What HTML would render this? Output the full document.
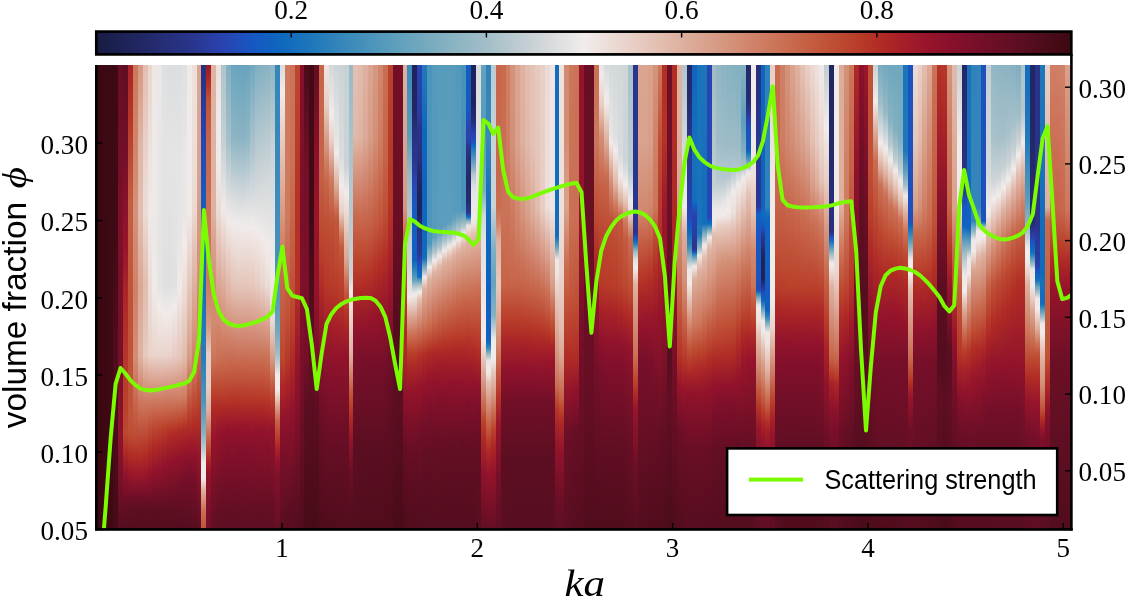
<!DOCTYPE html><html><head><meta charset="utf-8"><title>plot</title><style>html,body{margin:0;padding:0;background:#fff}svg{display:block}</style></head><body><svg width="1125" height="596" viewBox="0 0 1125 596"><defs><linearGradient id="g0" x1="0" y1="0" x2="0" y2="1"><stop offset="0.000" stop-color="#3c0912"/><stop offset="1.000" stop-color="#3c0912"/></linearGradient><linearGradient id="g1" x1="0" y1="0" x2="0" y2="1"><stop offset="0.000" stop-color="#3c0912"/><stop offset="1.000" stop-color="#3c0912"/></linearGradient><linearGradient id="g2" x1="0" y1="0" x2="0" y2="1"><stop offset="0.000" stop-color="#3c0912"/><stop offset="1.000" stop-color="#3c0912"/></linearGradient><linearGradient id="g3" x1="0" y1="0" x2="0" y2="1"><stop offset="0.000" stop-color="#3c0912"/><stop offset="1.000" stop-color="#3f0913"/></linearGradient><linearGradient id="g4" x1="0" y1="0" x2="0" y2="1"><stop offset="0.000" stop-color="#3e0913"/><stop offset="0.349" stop-color="#3f0a14"/><stop offset="0.599" stop-color="#500c1c"/><stop offset="0.944" stop-color="#470b18"/><stop offset="1.000" stop-color="#460b17"/></linearGradient><linearGradient id="g5" x1="0" y1="0" x2="0" y2="1"><stop offset="0.000" stop-color="#660e24"/><stop offset="0.336" stop-color="#7e0f2b"/><stop offset="0.629" stop-color="#760f29"/><stop offset="0.797" stop-color="#8f122c"/><stop offset="0.905" stop-color="#760f29"/><stop offset="0.970" stop-color="#5d0e22"/><stop offset="1.000" stop-color="#560d1f"/></linearGradient><linearGradient id="g6" x1="0" y1="0" x2="0" y2="1"><stop offset="0.000" stop-color="#5e0e22"/><stop offset="0.181" stop-color="#710f28"/><stop offset="0.397" stop-color="#99152b"/><stop offset="0.496" stop-color="#ac2627"/><stop offset="0.677" stop-color="#b83c29"/><stop offset="0.793" stop-color="#bc4830"/><stop offset="0.832" stop-color="#af2b26"/><stop offset="0.884" stop-color="#90122c"/><stop offset="0.953" stop-color="#610e23"/><stop offset="1.000" stop-color="#550d1f"/></linearGradient><linearGradient id="g7" x1="0" y1="0" x2="0" y2="1"><stop offset="0.000" stop-color="#a92327"/><stop offset="0.125" stop-color="#b73928"/><stop offset="0.289" stop-color="#c45d42"/><stop offset="0.328" stop-color="#c55f44"/><stop offset="0.500" stop-color="#c05338"/><stop offset="0.759" stop-color="#c05338"/><stop offset="0.797" stop-color="#bd4b32"/><stop offset="0.841" stop-color="#b12c25"/><stop offset="0.884" stop-color="#99152b"/><stop offset="0.940" stop-color="#680e25"/><stop offset="0.957" stop-color="#5f0e22"/><stop offset="1.000" stop-color="#540d1e"/></linearGradient><linearGradient id="g8" x1="0" y1="0" x2="0" y2="1"><stop offset="0.000" stop-color="#cc775b"/><stop offset="0.211" stop-color="#d1886f"/><stop offset="0.315" stop-color="#d4927a"/><stop offset="0.483" stop-color="#cf8167"/><stop offset="0.629" stop-color="#d38d74"/><stop offset="0.802" stop-color="#bd4a32"/><stop offset="0.845" stop-color="#b02c25"/><stop offset="0.884" stop-color="#9b172b"/><stop offset="0.927" stop-color="#730f28"/><stop offset="0.953" stop-color="#5f0e22"/><stop offset="1.000" stop-color="#540d1e"/></linearGradient><linearGradient id="g9" x1="0" y1="0" x2="0" y2="1"><stop offset="0.000" stop-color="#d69882"/><stop offset="0.172" stop-color="#e0b6a7"/><stop offset="0.315" stop-color="#e2beb1"/><stop offset="0.478" stop-color="#dba794"/><stop offset="0.625" stop-color="#dfb3a3"/><stop offset="0.763" stop-color="#c56145"/><stop offset="0.836" stop-color="#b43226"/><stop offset="0.879" stop-color="#9e192a"/><stop offset="0.918" stop-color="#7b0f2a"/><stop offset="0.953" stop-color="#5f0e22"/><stop offset="1.000" stop-color="#540d1e"/></linearGradient><linearGradient id="g10" x1="0" y1="0" x2="0" y2="1"><stop offset="0.000" stop-color="#e3bfb2"/><stop offset="0.254" stop-color="#ebd8d2"/><stop offset="0.315" stop-color="#ecdbd5"/><stop offset="0.474" stop-color="#e2bdaf"/><stop offset="0.625" stop-color="#e6c9be"/><stop offset="0.724" stop-color="#ce7b61"/><stop offset="0.797" stop-color="#bd4a32"/><stop offset="0.841" stop-color="#b02c25"/><stop offset="0.884" stop-color="#99152b"/><stop offset="0.940" stop-color="#680e25"/><stop offset="0.957" stop-color="#5e0e22"/><stop offset="1.000" stop-color="#540d1e"/></linearGradient><linearGradient id="g11" x1="0" y1="0" x2="0" y2="1"><stop offset="0.000" stop-color="#ead6ce"/><stop offset="0.319" stop-color="#f0e9e8"/><stop offset="0.625" stop-color="#e9d2c9"/><stop offset="0.724" stop-color="#ce7b60"/><stop offset="0.789" stop-color="#bd4831"/><stop offset="0.832" stop-color="#af2a26"/><stop offset="0.888" stop-color="#8f122c"/><stop offset="0.953" stop-color="#5f0e22"/><stop offset="1.000" stop-color="#540d1e"/></linearGradient><linearGradient id="g12" x1="0" y1="0" x2="0" y2="1"><stop offset="0.000" stop-color="#efe6e3"/><stop offset="0.220" stop-color="#eeeaea"/><stop offset="0.349" stop-color="#ece9e8"/><stop offset="0.483" stop-color="#f0eae8"/><stop offset="0.625" stop-color="#ead4cd"/><stop offset="0.728" stop-color="#cc765b"/><stop offset="0.784" stop-color="#bc462f"/><stop offset="0.819" stop-color="#b02c26"/><stop offset="0.879" stop-color="#90122c"/><stop offset="0.953" stop-color="#5f0e22"/><stop offset="1.000" stop-color="#540d1e"/></linearGradient><linearGradient id="g13" x1="0" y1="0" x2="0" y2="1"><stop offset="0.000" stop-color="#e9e7e7"/><stop offset="0.474" stop-color="#e5e4e4"/><stop offset="0.522" stop-color="#f1ebe9"/><stop offset="0.625" stop-color="#ead5cd"/><stop offset="0.737" stop-color="#ca6e52"/><stop offset="0.784" stop-color="#ba422d"/><stop offset="0.815" stop-color="#af2b26"/><stop offset="0.871" stop-color="#92132b"/><stop offset="0.953" stop-color="#5f0e22"/><stop offset="1.000" stop-color="#540d1e"/></linearGradient><linearGradient id="g14" x1="0" y1="0" x2="0" y2="1"><stop offset="0.000" stop-color="#dee0e1"/><stop offset="0.203" stop-color="#e5e4e4"/><stop offset="0.474" stop-color="#dee0e1"/><stop offset="0.534" stop-color="#f1ebea"/><stop offset="0.625" stop-color="#ead4cd"/><stop offset="0.746" stop-color="#c66448"/><stop offset="0.784" stop-color="#b93e2a"/><stop offset="0.815" stop-color="#ac2727"/><stop offset="0.866" stop-color="#90122c"/><stop offset="0.957" stop-color="#5e0e22"/><stop offset="1.000" stop-color="#540d1e"/></linearGradient><linearGradient id="g15" x1="0" y1="0" x2="0" y2="1"><stop offset="0.000" stop-color="#dbdddf"/><stop offset="0.190" stop-color="#e5e4e4"/><stop offset="0.474" stop-color="#dddfe0"/><stop offset="0.534" stop-color="#f1ebea"/><stop offset="0.625" stop-color="#e9d3cb"/><stop offset="0.746" stop-color="#c66247"/><stop offset="0.780" stop-color="#b93e2a"/><stop offset="0.797" stop-color="#b02c25"/><stop offset="0.858" stop-color="#91132b"/><stop offset="0.957" stop-color="#5e0e22"/><stop offset="1.000" stop-color="#540d1e"/></linearGradient><linearGradient id="g16" x1="0" y1="0" x2="0" y2="1"><stop offset="0.000" stop-color="#daddde"/><stop offset="0.185" stop-color="#e5e4e4"/><stop offset="0.474" stop-color="#e1e1e2"/><stop offset="0.522" stop-color="#f1ebea"/><stop offset="0.629" stop-color="#e7cbc1"/><stop offset="0.728" stop-color="#cb7357"/><stop offset="0.772" stop-color="#bb452e"/><stop offset="0.793" stop-color="#b02b26"/><stop offset="0.849" stop-color="#93132b"/><stop offset="0.953" stop-color="#5f0e22"/><stop offset="1.000" stop-color="#540d1e"/></linearGradient><linearGradient id="g17" x1="0" y1="0" x2="0" y2="1"><stop offset="0.000" stop-color="#dbdedf"/><stop offset="0.190" stop-color="#e5e4e5"/><stop offset="0.345" stop-color="#e6e4e5"/><stop offset="0.483" stop-color="#f0eae8"/><stop offset="0.629" stop-color="#e5c5b9"/><stop offset="0.720" stop-color="#ce7b60"/><stop offset="0.767" stop-color="#bc462f"/><stop offset="0.789" stop-color="#b02c25"/><stop offset="0.845" stop-color="#92132b"/><stop offset="0.914" stop-color="#6f0f27"/><stop offset="0.974" stop-color="#5a0e21"/><stop offset="1.000" stop-color="#540d1e"/></linearGradient><linearGradient id="g18" x1="0" y1="0" x2="0" y2="1"><stop offset="0.000" stop-color="#dfe0e1"/><stop offset="0.194" stop-color="#e8e6e6"/><stop offset="0.323" stop-color="#e9e6e6"/><stop offset="0.388" stop-color="#f1ebe9"/><stop offset="0.504" stop-color="#ebd9d2"/><stop offset="0.629" stop-color="#e1bbac"/><stop offset="0.716" stop-color="#ce7d62"/><stop offset="0.759" stop-color="#be4b33"/><stop offset="0.784" stop-color="#b12d25"/><stop offset="0.832" stop-color="#97152b"/><stop offset="0.892" stop-color="#760f29"/><stop offset="0.978" stop-color="#590e21"/><stop offset="1.000" stop-color="#540d1e"/></linearGradient><linearGradient id="g19" x1="0" y1="0" x2="0" y2="1"><stop offset="0.000" stop-color="#f0ebea"/><stop offset="0.315" stop-color="#f0eae9"/><stop offset="0.517" stop-color="#e2bdaf"/><stop offset="0.629" stop-color="#d79b85"/><stop offset="0.711" stop-color="#c45f43"/><stop offset="0.772" stop-color="#b43327"/><stop offset="0.815" stop-color="#9f1a2a"/><stop offset="0.871" stop-color="#7d0f2b"/><stop offset="0.983" stop-color="#590e20"/><stop offset="1.000" stop-color="#550d1e"/></linearGradient><linearGradient id="g20" x1="0" y1="0" x2="0" y2="1"><stop offset="0.000" stop-color="#ede0db"/><stop offset="0.259" stop-color="#ecdcd6"/><stop offset="0.319" stop-color="#ebd7d0"/><stop offset="0.569" stop-color="#d59780"/><stop offset="0.634" stop-color="#cf8167"/><stop offset="0.728" stop-color="#bd4931"/><stop offset="0.776" stop-color="#b02b26"/><stop offset="0.841" stop-color="#91122c"/><stop offset="0.892" stop-color="#770f29"/><stop offset="1.000" stop-color="#570e20"/></linearGradient><linearGradient id="g21" x1="0" y1="0" x2="0" y2="1"><stop offset="0.000" stop-color="#daa692"/><stop offset="0.241" stop-color="#d9a28d"/><stop offset="0.470" stop-color="#d38f76"/><stop offset="0.642" stop-color="#c7654a"/><stop offset="0.754" stop-color="#b53527"/><stop offset="0.836" stop-color="#99152b"/><stop offset="0.966" stop-color="#690e25"/><stop offset="1.000" stop-color="#5f0e22"/></linearGradient><linearGradient id="g22" x1="0" y1="0" x2="0" y2="1"><stop offset="0.000" stop-color="#27307e"/><stop offset="0.095" stop-color="#2a3b9b"/><stop offset="0.164" stop-color="#2745b3"/><stop offset="0.284" stop-color="#165ac2"/><stop offset="0.435" stop-color="#0f6abe"/><stop offset="0.634" stop-color="#297eba"/><stop offset="0.728" stop-color="#4f96bb"/><stop offset="0.789" stop-color="#81afc1"/><stop offset="0.828" stop-color="#bbcbd0"/><stop offset="0.858" stop-color="#f1eceb"/><stop offset="0.888" stop-color="#f1eceb"/><stop offset="0.892" stop-color="#f0e7e5"/><stop offset="0.918" stop-color="#ddae9c"/><stop offset="0.961" stop-color="#ca7054"/><stop offset="1.000" stop-color="#c05237"/></linearGradient><linearGradient id="g23" x1="0" y1="0" x2="0" y2="1"><stop offset="0.000" stop-color="#99152b"/><stop offset="0.043" stop-color="#b53427"/><stop offset="0.078" stop-color="#c05338"/><stop offset="0.172" stop-color="#c7674c"/><stop offset="0.414" stop-color="#cd785d"/><stop offset="0.474" stop-color="#ce7c61"/><stop offset="0.560" stop-color="#d69881"/><stop offset="0.582" stop-color="#dba996"/><stop offset="0.625" stop-color="#e8cfc6"/><stop offset="0.694" stop-color="#e7cdc3"/><stop offset="0.746" stop-color="#ddae9d"/><stop offset="0.802" stop-color="#c8684c"/><stop offset="0.836" stop-color="#b93e2a"/><stop offset="0.853" stop-color="#ac2627"/><stop offset="0.875" stop-color="#97142b"/><stop offset="0.974" stop-color="#780f2a"/><stop offset="1.000" stop-color="#730f28"/></linearGradient><linearGradient id="g24" x1="0" y1="0" x2="0" y2="1"><stop offset="0.000" stop-color="#dfb3a3"/><stop offset="0.315" stop-color="#deb2a1"/><stop offset="0.483" stop-color="#d28b73"/><stop offset="0.560" stop-color="#d28a70"/><stop offset="0.629" stop-color="#cc775b"/><stop offset="0.698" stop-color="#bc4730"/><stop offset="0.741" stop-color="#af2b26"/><stop offset="0.802" stop-color="#97142b"/><stop offset="0.974" stop-color="#660e24"/><stop offset="1.000" stop-color="#610e23"/></linearGradient><linearGradient id="g25" x1="0" y1="0" x2="0" y2="1"><stop offset="0.000" stop-color="#eddfda"/><stop offset="0.129" stop-color="#efebea"/><stop offset="0.168" stop-color="#eeeae9"/><stop offset="0.228" stop-color="#f0e8e6"/><stop offset="0.315" stop-color="#ecdbd5"/><stop offset="0.530" stop-color="#d49179"/><stop offset="0.634" stop-color="#ca7054"/><stop offset="0.707" stop-color="#ba412c"/><stop offset="0.741" stop-color="#ae2926"/><stop offset="0.793" stop-color="#95142b"/><stop offset="0.970" stop-color="#620e23"/><stop offset="1.000" stop-color="#5e0e22"/></linearGradient><linearGradient id="g26" x1="0" y1="0" x2="0" y2="1"><stop offset="0.000" stop-color="#adc4cc"/><stop offset="0.164" stop-color="#c4d0d4"/><stop offset="0.310" stop-color="#f1eae9"/><stop offset="0.582" stop-color="#d0846a"/><stop offset="0.647" stop-color="#c7664a"/><stop offset="0.711" stop-color="#b93e2a"/><stop offset="0.746" stop-color="#ab2527"/><stop offset="0.793" stop-color="#91122c"/><stop offset="0.966" stop-color="#610e23"/><stop offset="1.000" stop-color="#5d0e22"/></linearGradient><linearGradient id="g27" x1="0" y1="0" x2="0" y2="1"><stop offset="0.000" stop-color="#82b0c1"/><stop offset="0.164" stop-color="#a6c0c9"/><stop offset="0.302" stop-color="#e4e4e4"/><stop offset="0.336" stop-color="#f0eae9"/><stop offset="0.491" stop-color="#dfb3a2"/><stop offset="0.659" stop-color="#c45e42"/><stop offset="0.724" stop-color="#b43327"/><stop offset="0.780" stop-color="#97142b"/><stop offset="0.823" stop-color="#86102c"/><stop offset="0.970" stop-color="#610e23"/><stop offset="1.000" stop-color="#5d0e22"/></linearGradient><linearGradient id="g28" x1="0" y1="0" x2="0" y2="1"><stop offset="0.000" stop-color="#6ca5be"/><stop offset="0.159" stop-color="#8fb5c4"/><stop offset="0.293" stop-color="#dcdedf"/><stop offset="0.345" stop-color="#f1ebea"/><stop offset="0.478" stop-color="#e3c1b4"/><stop offset="0.672" stop-color="#c1563b"/><stop offset="0.733" stop-color="#b12c25"/><stop offset="0.789" stop-color="#91122c"/><stop offset="0.966" stop-color="#610e23"/><stop offset="1.000" stop-color="#5d0e22"/></linearGradient><linearGradient id="g29" x1="0" y1="0" x2="0" y2="1"><stop offset="0.000" stop-color="#68a4be"/><stop offset="0.159" stop-color="#8bb4c3"/><stop offset="0.280" stop-color="#d3d8da"/><stop offset="0.341" stop-color="#efebea"/><stop offset="0.414" stop-color="#ebd9d2"/><stop offset="0.478" stop-color="#e4c4b8"/><stop offset="0.659" stop-color="#c45e42"/><stop offset="0.724" stop-color="#b43327"/><stop offset="0.780" stop-color="#97142b"/><stop offset="0.823" stop-color="#86102c"/><stop offset="0.970" stop-color="#610e23"/><stop offset="1.000" stop-color="#5d0e22"/></linearGradient><linearGradient id="g30" x1="0" y1="0" x2="0" y2="1"><stop offset="0.000" stop-color="#68a3be"/><stop offset="0.159" stop-color="#8bb4c3"/><stop offset="0.280" stop-color="#d3d8da"/><stop offset="0.336" stop-color="#ede9e9"/><stop offset="0.358" stop-color="#f0e9e7"/><stop offset="0.478" stop-color="#e4c4b8"/><stop offset="0.659" stop-color="#c45e42"/><stop offset="0.724" stop-color="#b43327"/><stop offset="0.780" stop-color="#97142b"/><stop offset="0.823" stop-color="#86102c"/><stop offset="0.970" stop-color="#610e23"/><stop offset="1.000" stop-color="#5d0e22"/></linearGradient><linearGradient id="g31" x1="0" y1="0" x2="0" y2="1"><stop offset="0.000" stop-color="#6aa4be"/><stop offset="0.159" stop-color="#8fb6c4"/><stop offset="0.297" stop-color="#dddfe0"/><stop offset="0.349" stop-color="#f1ebea"/><stop offset="0.478" stop-color="#e5c5b9"/><stop offset="0.659" stop-color="#c45e42"/><stop offset="0.724" stop-color="#b43327"/><stop offset="0.780" stop-color="#97142b"/><stop offset="0.823" stop-color="#86102c"/><stop offset="0.970" stop-color="#610e23"/><stop offset="1.000" stop-color="#5d0e22"/></linearGradient><linearGradient id="g32" x1="0" y1="0" x2="0" y2="1"><stop offset="0.000" stop-color="#72a8bf"/><stop offset="0.194" stop-color="#b2c6ce"/><stop offset="0.349" stop-color="#f1eceb"/><stop offset="0.478" stop-color="#e5c6bb"/><stop offset="0.655" stop-color="#c56045"/><stop offset="0.720" stop-color="#b63728"/><stop offset="0.767" stop-color="#9f1a2a"/><stop offset="0.806" stop-color="#8b112c"/><stop offset="0.970" stop-color="#610e23"/><stop offset="1.000" stop-color="#5d0e22"/></linearGradient><linearGradient id="g33" x1="0" y1="0" x2="0" y2="1"><stop offset="0.000" stop-color="#80afc0"/><stop offset="0.237" stop-color="#cbd3d6"/><stop offset="0.358" stop-color="#f1ebea"/><stop offset="0.474" stop-color="#e7cdc3"/><stop offset="0.642" stop-color="#c7684c"/><stop offset="0.711" stop-color="#b93e2a"/><stop offset="0.741" stop-color="#ad2726"/><stop offset="0.789" stop-color="#91122c"/><stop offset="0.966" stop-color="#610e23"/><stop offset="1.000" stop-color="#5d0e22"/></linearGradient><linearGradient id="g34" x1="0" y1="0" x2="0" y2="1"><stop offset="0.000" stop-color="#85b1c2"/><stop offset="0.241" stop-color="#cfd6d8"/><stop offset="0.371" stop-color="#f1ebe9"/><stop offset="0.474" stop-color="#e9d3cc"/><stop offset="0.634" stop-color="#c96d51"/><stop offset="0.711" stop-color="#b93f2a"/><stop offset="0.741" stop-color="#ad2826"/><stop offset="0.789" stop-color="#91132b"/><stop offset="0.966" stop-color="#610e23"/><stop offset="1.000" stop-color="#5d0e22"/></linearGradient><linearGradient id="g35" x1="0" y1="0" x2="0" y2="1"><stop offset="0.000" stop-color="#88b3c2"/><stop offset="0.263" stop-color="#d7dbdc"/><stop offset="0.392" stop-color="#f1ebea"/><stop offset="0.474" stop-color="#ecddd8"/><stop offset="0.608" stop-color="#cf7f65"/><stop offset="0.659" stop-color="#c56145"/><stop offset="0.724" stop-color="#b63728"/><stop offset="0.772" stop-color="#9e192a"/><stop offset="0.806" stop-color="#8c112c"/><stop offset="0.966" stop-color="#620e23"/><stop offset="1.000" stop-color="#5e0e22"/></linearGradient><linearGradient id="g36" x1="0" y1="0" x2="0" y2="1"><stop offset="0.000" stop-color="#8eb5c4"/><stop offset="0.168" stop-color="#c6d0d4"/><stop offset="0.375" stop-color="#ebe8e8"/><stop offset="0.440" stop-color="#f0eae8"/><stop offset="0.547" stop-color="#ecddd8"/><stop offset="0.634" stop-color="#d69982"/><stop offset="0.685" stop-color="#c56045"/><stop offset="0.716" stop-color="#bb442e"/><stop offset="0.746" stop-color="#af2a26"/><stop offset="0.789" stop-color="#94132b"/><stop offset="0.966" stop-color="#640e24"/><stop offset="1.000" stop-color="#600e23"/></linearGradient><linearGradient id="g37" x1="0" y1="0" x2="0" y2="1"><stop offset="0.000" stop-color="#3486ba"/><stop offset="0.190" stop-color="#3888ba"/><stop offset="0.435" stop-color="#4892bb"/><stop offset="0.483" stop-color="#4e96bb"/><stop offset="0.573" stop-color="#71a8bf"/><stop offset="0.625" stop-color="#a2bec8"/><stop offset="0.655" stop-color="#d8dbdd"/><stop offset="0.668" stop-color="#f1eceb"/><stop offset="0.698" stop-color="#f1eceb"/><stop offset="0.707" stop-color="#eddfda"/><stop offset="0.754" stop-color="#ce7c61"/><stop offset="0.767" stop-color="#c66347"/><stop offset="0.806" stop-color="#b73a29"/><stop offset="0.823" stop-color="#ac2627"/><stop offset="0.858" stop-color="#91122c"/><stop offset="0.884" stop-color="#82102b"/><stop offset="1.000" stop-color="#660e24"/></linearGradient><linearGradient id="g38" x1="0" y1="0" x2="0" y2="1"><stop offset="0.000" stop-color="#daddde"/><stop offset="0.060" stop-color="#f1ebea"/><stop offset="0.319" stop-color="#d79a84"/><stop offset="0.440" stop-color="#c96d52"/><stop offset="0.539" stop-color="#c2593d"/><stop offset="0.634" stop-color="#bc4730"/><stop offset="0.690" stop-color="#ae2926"/><stop offset="0.767" stop-color="#91122c"/><stop offset="0.828" stop-color="#7d0f2b"/><stop offset="0.978" stop-color="#5d0e22"/><stop offset="1.000" stop-color="#5b0e21"/></linearGradient><linearGradient id="g39" x1="0" y1="0" x2="0" y2="1"><stop offset="0.000" stop-color="#cd7a5f"/><stop offset="0.328" stop-color="#cd7a5f"/><stop offset="0.539" stop-color="#c05237"/><stop offset="0.638" stop-color="#b63828"/><stop offset="0.694" stop-color="#a82228"/><stop offset="0.772" stop-color="#8c112c"/><stop offset="0.966" stop-color="#5c0e21"/><stop offset="1.000" stop-color="#580e20"/></linearGradient><linearGradient id="g40" x1="0" y1="0" x2="0" y2="1"><stop offset="0.000" stop-color="#cc7458"/><stop offset="0.198" stop-color="#cb7256"/><stop offset="0.409" stop-color="#c35c41"/><stop offset="0.560" stop-color="#ba402b"/><stop offset="0.655" stop-color="#ab2527"/><stop offset="0.750" stop-color="#8f122c"/><stop offset="0.953" stop-color="#5c0e22"/><stop offset="1.000" stop-color="#570d1f"/></linearGradient><linearGradient id="g41" x1="0" y1="0" x2="0" y2="1"><stop offset="0.000" stop-color="#bd4831"/><stop offset="0.263" stop-color="#b53427"/><stop offset="0.358" stop-color="#b33126"/><stop offset="0.478" stop-color="#b33126"/><stop offset="0.638" stop-color="#96142b"/><stop offset="0.888" stop-color="#670e25"/><stop offset="1.000" stop-color="#550d1e"/></linearGradient><linearGradient id="g42" x1="0" y1="0" x2="0" y2="1"><stop offset="0.000" stop-color="#85102b"/><stop offset="0.328" stop-color="#7a0f2a"/><stop offset="0.504" stop-color="#81102b"/><stop offset="0.651" stop-color="#780f2a"/><stop offset="1.000" stop-color="#500c1c"/></linearGradient><linearGradient id="g43" x1="0" y1="0" x2="0" y2="1"><stop offset="0.000" stop-color="#4b0b19"/><stop offset="0.216" stop-color="#730f28"/><stop offset="0.457" stop-color="#7d0f2a"/><stop offset="0.634" stop-color="#740f29"/><stop offset="0.724" stop-color="#5d0e22"/><stop offset="1.000" stop-color="#480b18"/></linearGradient><linearGradient id="g44" x1="0" y1="0" x2="0" y2="1"><stop offset="0.000" stop-color="#430a16"/><stop offset="0.336" stop-color="#3f0a14"/><stop offset="0.629" stop-color="#5e0e22"/><stop offset="0.694" stop-color="#5e0e22"/><stop offset="1.000" stop-color="#460b17"/></linearGradient><linearGradient id="g45" x1="0" y1="0" x2="0" y2="1"><stop offset="0.000" stop-color="#620e23"/><stop offset="0.185" stop-color="#89102c"/><stop offset="0.328" stop-color="#98152b"/><stop offset="0.496" stop-color="#92132b"/><stop offset="0.638" stop-color="#760f29"/><stop offset="0.720" stop-color="#5e0e22"/><stop offset="1.000" stop-color="#480b18"/></linearGradient><linearGradient id="g46" x1="0" y1="0" x2="0" y2="1"><stop offset="0.000" stop-color="#c7654a"/><stop offset="0.228" stop-color="#c56246"/><stop offset="0.414" stop-color="#b93d2a"/><stop offset="0.504" stop-color="#ab2527"/><stop offset="0.595" stop-color="#90122c"/><stop offset="0.784" stop-color="#660e25"/><stop offset="1.000" stop-color="#4e0c1b"/></linearGradient><linearGradient id="g47" x1="0" y1="0" x2="0" y2="1"><stop offset="0.000" stop-color="#efe5e2"/><stop offset="0.082" stop-color="#e8d0c7"/><stop offset="0.211" stop-color="#ce7c62"/><stop offset="0.254" stop-color="#c66549"/><stop offset="0.358" stop-color="#bd4b32"/><stop offset="0.478" stop-color="#b63628"/><stop offset="0.569" stop-color="#a11b29"/><stop offset="0.664" stop-color="#86102c"/><stop offset="0.823" stop-color="#650e24"/><stop offset="1.000" stop-color="#500c1c"/></linearGradient><linearGradient id="g48" x1="0" y1="0" x2="0" y2="1"><stop offset="0.000" stop-color="#d3d8da"/><stop offset="0.108" stop-color="#f1ebea"/><stop offset="0.164" stop-color="#e8cfc6"/><stop offset="0.246" stop-color="#cd7b60"/><stop offset="0.345" stop-color="#bf5036"/><stop offset="0.478" stop-color="#b73a29"/><stop offset="0.543" stop-color="#aa2427"/><stop offset="0.634" stop-color="#90122c"/><stop offset="0.819" stop-color="#660e25"/><stop offset="1.000" stop-color="#510c1c"/></linearGradient><linearGradient id="g49" x1="0" y1="0" x2="0" y2="1"><stop offset="0.000" stop-color="#cdd5d7"/><stop offset="0.177" stop-color="#e9e7e7"/><stop offset="0.190" stop-color="#f1eceb"/><stop offset="0.263" stop-color="#dcab99"/><stop offset="0.310" stop-color="#ca6f53"/><stop offset="0.336" stop-color="#c1553a"/><stop offset="0.427" stop-color="#bd4831"/><stop offset="0.491" stop-color="#b63728"/><stop offset="0.569" stop-color="#a51e29"/><stop offset="0.651" stop-color="#8c112c"/><stop offset="0.819" stop-color="#660e25"/><stop offset="1.000" stop-color="#510c1c"/></linearGradient><linearGradient id="g50" x1="0" y1="0" x2="0" y2="1"><stop offset="0.000" stop-color="#cbd3d6"/><stop offset="0.194" stop-color="#d8dcdd"/><stop offset="0.259" stop-color="#f1ebea"/><stop offset="0.315" stop-color="#e9d1c9"/><stop offset="0.362" stop-color="#cf8167"/><stop offset="0.392" stop-color="#c35a3e"/><stop offset="0.414" stop-color="#bf5036"/><stop offset="0.504" stop-color="#b73928"/><stop offset="0.565" stop-color="#a82128"/><stop offset="0.638" stop-color="#8f122c"/><stop offset="0.815" stop-color="#670e25"/><stop offset="1.000" stop-color="#510d1d"/></linearGradient><linearGradient id="g51" x1="0" y1="0" x2="0" y2="1"><stop offset="0.000" stop-color="#c8d2d5"/><stop offset="0.216" stop-color="#cbd3d6"/><stop offset="0.276" stop-color="#f1ebe9"/><stop offset="0.336" stop-color="#e9d2ca"/><stop offset="0.422" stop-color="#daa591"/><stop offset="0.478" stop-color="#c7654a"/><stop offset="0.513" stop-color="#bb442e"/><stop offset="0.543" stop-color="#b12d25"/><stop offset="0.625" stop-color="#92132b"/><stop offset="0.806" stop-color="#680e25"/><stop offset="1.000" stop-color="#520d1d"/></linearGradient><linearGradient id="g52" x1="0" y1="0" x2="0" y2="1"><stop offset="0.000" stop-color="#98bac6"/><stop offset="0.250" stop-color="#b2c6ce"/><stop offset="0.345" stop-color="#b9cad0"/><stop offset="0.457" stop-color="#cbd3d6"/><stop offset="0.487" stop-color="#f1ebea"/><stop offset="0.625" stop-color="#deb1a0"/><stop offset="0.698" stop-color="#c56045"/><stop offset="0.716" stop-color="#bf4f35"/><stop offset="0.759" stop-color="#b12c25"/><stop offset="0.806" stop-color="#94142b"/><stop offset="0.879" stop-color="#690e25"/><stop offset="0.970" stop-color="#560d1f"/><stop offset="1.000" stop-color="#530d1e"/></linearGradient><linearGradient id="g53" x1="0" y1="0" x2="0" y2="1"><stop offset="0.000" stop-color="#e3c0b3"/><stop offset="0.155" stop-color="#e0b8a9"/><stop offset="0.323" stop-color="#c96b4f"/><stop offset="0.431" stop-color="#ba402c"/><stop offset="0.487" stop-color="#ad2826"/><stop offset="0.573" stop-color="#8f122c"/><stop offset="0.638" stop-color="#780f2a"/><stop offset="0.823" stop-color="#5c0e22"/><stop offset="1.000" stop-color="#520d1d"/></linearGradient><linearGradient id="g54" x1="0" y1="0" x2="0" y2="1"><stop offset="0.000" stop-color="#e1bbad"/><stop offset="0.155" stop-color="#dfb3a3"/><stop offset="0.332" stop-color="#c8684c"/><stop offset="0.435" stop-color="#b93f2a"/><stop offset="0.487" stop-color="#ad2826"/><stop offset="0.569" stop-color="#90122c"/><stop offset="0.638" stop-color="#770f29"/><stop offset="0.832" stop-color="#5a0e21"/><stop offset="1.000" stop-color="#510d1d"/></linearGradient><linearGradient id="g55" x1="0" y1="0" x2="0" y2="1"><stop offset="0.000" stop-color="#deb1a0"/><stop offset="0.155" stop-color="#dba996"/><stop offset="0.388" stop-color="#c05137"/><stop offset="0.470" stop-color="#b22d25"/><stop offset="0.565" stop-color="#92132b"/><stop offset="0.638" stop-color="#770f29"/><stop offset="0.832" stop-color="#5a0e21"/><stop offset="1.000" stop-color="#510c1c"/></linearGradient><linearGradient id="g56" x1="0" y1="0" x2="0" y2="1"><stop offset="0.000" stop-color="#daa591"/><stop offset="0.159" stop-color="#d79c86"/><stop offset="0.353" stop-color="#c35c41"/><stop offset="0.453" stop-color="#b43226"/><stop offset="0.547" stop-color="#97142b"/><stop offset="0.638" stop-color="#770f29"/><stop offset="0.832" stop-color="#5a0e21"/><stop offset="1.000" stop-color="#510c1c"/></linearGradient><linearGradient id="g57" x1="0" y1="0" x2="0" y2="1"><stop offset="0.000" stop-color="#d69881"/><stop offset="0.159" stop-color="#d38f77"/><stop offset="0.341" stop-color="#c2593e"/><stop offset="0.440" stop-color="#b33026"/><stop offset="0.543" stop-color="#96142b"/><stop offset="0.642" stop-color="#760f29"/><stop offset="0.832" stop-color="#5a0e21"/><stop offset="1.000" stop-color="#510c1c"/></linearGradient><linearGradient id="g58" x1="0" y1="0" x2="0" y2="1"><stop offset="0.000" stop-color="#d1866d"/><stop offset="0.164" stop-color="#ce7d62"/><stop offset="0.332" stop-color="#c1553a"/><stop offset="0.431" stop-color="#b22e25"/><stop offset="0.543" stop-color="#94132b"/><stop offset="0.647" stop-color="#750f29"/><stop offset="0.836" stop-color="#5a0e21"/><stop offset="1.000" stop-color="#510c1c"/></linearGradient><linearGradient id="g59" x1="0" y1="0" x2="0" y2="1"><stop offset="0.000" stop-color="#ca6f53"/><stop offset="0.190" stop-color="#c66448"/><stop offset="0.323" stop-color="#be4d34"/><stop offset="0.422" stop-color="#b02c25"/><stop offset="0.543" stop-color="#91122c"/><stop offset="0.647" stop-color="#720f28"/><stop offset="0.845" stop-color="#580e20"/><stop offset="1.000" stop-color="#500c1c"/></linearGradient><linearGradient id="g60" x1="0" y1="0" x2="0" y2="1"><stop offset="0.000" stop-color="#ba422c"/><stop offset="0.319" stop-color="#b43326"/><stop offset="0.483" stop-color="#9b162b"/><stop offset="0.608" stop-color="#720f28"/><stop offset="0.698" stop-color="#640e24"/><stop offset="1.000" stop-color="#4e0c1b"/></linearGradient><linearGradient id="g61" x1="0" y1="0" x2="0" y2="1"><stop offset="0.000" stop-color="#710f28"/><stop offset="0.336" stop-color="#690e25"/><stop offset="0.565" stop-color="#550d1e"/><stop offset="0.642" stop-color="#550d1e"/><stop offset="0.728" stop-color="#5c0e22"/><stop offset="1.000" stop-color="#490b18"/></linearGradient><linearGradient id="g62" x1="0" y1="0" x2="0" y2="1"><stop offset="0.000" stop-color="#750f29"/><stop offset="0.237" stop-color="#6d0f26"/><stop offset="0.345" stop-color="#680e25"/><stop offset="0.625" stop-color="#4f0c1b"/><stop offset="0.728" stop-color="#5b0e21"/><stop offset="1.000" stop-color="#490b18"/></linearGradient><linearGradient id="g63" x1="0" y1="0" x2="0" y2="1"><stop offset="0.000" stop-color="#deb1a0"/><stop offset="0.306" stop-color="#d69882"/><stop offset="0.379" stop-color="#c66449"/><stop offset="0.470" stop-color="#b93e2a"/><stop offset="0.595" stop-color="#ae2926"/><stop offset="0.634" stop-color="#ac2627"/><stop offset="0.716" stop-color="#8d112c"/><stop offset="0.832" stop-color="#630e24"/><stop offset="1.000" stop-color="#4e0c1b"/></linearGradient><linearGradient id="g64" x1="0" y1="0" x2="0" y2="1"><stop offset="0.000" stop-color="#3b8aba"/><stop offset="0.155" stop-color="#5b9ebc"/><stop offset="0.233" stop-color="#96b9c5"/><stop offset="0.328" stop-color="#b7c9cf"/><stop offset="0.431" stop-color="#d0d6d9"/><stop offset="0.474" stop-color="#e3e3e3"/><stop offset="0.487" stop-color="#e5e4e4"/><stop offset="0.500" stop-color="#f0eae8"/><stop offset="0.539" stop-color="#ddad9c"/><stop offset="0.586" stop-color="#c96c50"/><stop offset="0.621" stop-color="#b93f2a"/><stop offset="0.647" stop-color="#ae2a26"/><stop offset="0.707" stop-color="#92132b"/><stop offset="0.832" stop-color="#670e25"/><stop offset="1.000" stop-color="#500c1c"/></linearGradient><linearGradient id="g65" x1="0" y1="0" x2="0" y2="1"><stop offset="0.000" stop-color="#1e2359"/><stop offset="0.099" stop-color="#212764"/><stop offset="0.147" stop-color="#273180"/><stop offset="0.207" stop-color="#2a3791"/><stop offset="0.254" stop-color="#2746b3"/><stop offset="0.306" stop-color="#1658c3"/><stop offset="0.358" stop-color="#125fc1"/><stop offset="0.418" stop-color="#1160c0"/><stop offset="0.422" stop-color="#0d67be"/><stop offset="0.440" stop-color="#2c81ba"/><stop offset="0.461" stop-color="#5b9ebc"/><stop offset="0.466" stop-color="#6fa7be"/><stop offset="0.474" stop-color="#a0bdc7"/><stop offset="0.483" stop-color="#cdd4d7"/><stop offset="0.491" stop-color="#e7e6e6"/><stop offset="0.496" stop-color="#f1eceb"/><stop offset="0.543" stop-color="#daa490"/><stop offset="0.586" stop-color="#c8694d"/><stop offset="0.621" stop-color="#b93f2b"/><stop offset="0.651" stop-color="#ad2826"/><stop offset="0.707" stop-color="#91132b"/><stop offset="0.832" stop-color="#670e25"/><stop offset="1.000" stop-color="#510d1d"/></linearGradient><linearGradient id="g66" x1="0" y1="0" x2="0" y2="1"><stop offset="0.000" stop-color="#2844b2"/><stop offset="0.099" stop-color="#293ea4"/><stop offset="0.134" stop-color="#29358a"/><stop offset="0.198" stop-color="#27317f"/><stop offset="0.272" stop-color="#1e2359"/><stop offset="0.319" stop-color="#1e2359"/><stop offset="0.358" stop-color="#273181"/><stop offset="0.409" stop-color="#2a3892"/><stop offset="0.422" stop-color="#2844b2"/><stop offset="0.435" stop-color="#1756c3"/><stop offset="0.453" stop-color="#0f6abe"/><stop offset="0.457" stop-color="#146ebc"/><stop offset="0.461" stop-color="#3f8dbb"/><stop offset="0.466" stop-color="#69a4be"/><stop offset="0.474" stop-color="#a8c1ca"/><stop offset="0.487" stop-color="#eae8e7"/><stop offset="0.491" stop-color="#efe7e4"/><stop offset="0.504" stop-color="#e4c3b6"/><stop offset="0.513" stop-color="#dfb5a5"/><stop offset="0.591" stop-color="#c45c41"/><stop offset="0.625" stop-color="#b43226"/><stop offset="0.694" stop-color="#96142b"/><stop offset="0.802" stop-color="#6d0f27"/><stop offset="0.909" stop-color="#5c0e22"/><stop offset="1.000" stop-color="#520d1d"/></linearGradient><linearGradient id="g67" x1="0" y1="0" x2="0" y2="1"><stop offset="0.000" stop-color="#227aba"/><stop offset="0.147" stop-color="#0e67be"/><stop offset="0.254" stop-color="#1162c0"/><stop offset="0.371" stop-color="#0e69be"/><stop offset="0.414" stop-color="#116bbd"/><stop offset="0.418" stop-color="#1973bb"/><stop offset="0.435" stop-color="#72a9bf"/><stop offset="0.444" stop-color="#a2bec8"/><stop offset="0.457" stop-color="#f0e9e8"/><stop offset="0.483" stop-color="#deb09e"/><stop offset="0.500" stop-color="#daa38f"/><stop offset="0.556" stop-color="#cd795e"/><stop offset="0.603" stop-color="#bc462f"/><stop offset="0.625" stop-color="#b02c26"/><stop offset="0.694" stop-color="#91132b"/><stop offset="0.793" stop-color="#6d0f27"/><stop offset="0.849" stop-color="#620e23"/><stop offset="1.000" stop-color="#530d1e"/></linearGradient><linearGradient id="g68" x1="0" y1="0" x2="0" y2="1"><stop offset="0.000" stop-color="#4b94bb"/><stop offset="0.379" stop-color="#4e96bb"/><stop offset="0.384" stop-color="#4c95bb"/><stop offset="0.414" stop-color="#a3bfc8"/><stop offset="0.431" stop-color="#dfe0e1"/><stop offset="0.435" stop-color="#efebea"/><stop offset="0.461" stop-color="#deb2a2"/><stop offset="0.560" stop-color="#c96c50"/><stop offset="0.599" stop-color="#bb432d"/><stop offset="0.621" stop-color="#af2a26"/><stop offset="0.677" stop-color="#97142b"/><stop offset="0.746" stop-color="#7b0f2a"/><stop offset="0.836" stop-color="#620e23"/><stop offset="1.000" stop-color="#540d1e"/></linearGradient><linearGradient id="g69" x1="0" y1="0" x2="0" y2="1"><stop offset="0.000" stop-color="#549abc"/><stop offset="0.358" stop-color="#569abc"/><stop offset="0.371" stop-color="#5e9fbd"/><stop offset="0.392" stop-color="#95b8c5"/><stop offset="0.405" stop-color="#b4c7ce"/><stop offset="0.418" stop-color="#e5e4e5"/><stop offset="0.422" stop-color="#f0e9e7"/><stop offset="0.448" stop-color="#deb1a0"/><stop offset="0.556" stop-color="#c7664a"/><stop offset="0.599" stop-color="#b83d2a"/><stop offset="0.621" stop-color="#ac2727"/><stop offset="0.685" stop-color="#91132b"/><stop offset="0.806" stop-color="#670e25"/><stop offset="1.000" stop-color="#540d1e"/></linearGradient><linearGradient id="g70" x1="0" y1="0" x2="0" y2="1"><stop offset="0.000" stop-color="#579cbc"/><stop offset="0.349" stop-color="#5a9dbc"/><stop offset="0.358" stop-color="#5c9ebc"/><stop offset="0.392" stop-color="#abc3cb"/><stop offset="0.405" stop-color="#daddde"/><stop offset="0.409" stop-color="#eae7e7"/><stop offset="0.414" stop-color="#efe7e4"/><stop offset="0.435" stop-color="#e0b6a6"/><stop offset="0.461" stop-color="#d9a18d"/><stop offset="0.569" stop-color="#c05338"/><stop offset="0.608" stop-color="#b33026"/><stop offset="0.638" stop-color="#a51e28"/><stop offset="0.703" stop-color="#89102c"/><stop offset="0.832" stop-color="#620e23"/><stop offset="1.000" stop-color="#540d1e"/></linearGradient><linearGradient id="g71" x1="0" y1="0" x2="0" y2="1"><stop offset="0.000" stop-color="#589cbc"/><stop offset="0.341" stop-color="#5b9dbc"/><stop offset="0.349" stop-color="#62a1bd"/><stop offset="0.379" stop-color="#aac2cb"/><stop offset="0.392" stop-color="#d8dbdd"/><stop offset="0.397" stop-color="#e8e6e6"/><stop offset="0.401" stop-color="#f0e8e6"/><stop offset="0.422" stop-color="#e0b8a9"/><stop offset="0.435" stop-color="#dcac99"/><stop offset="0.560" stop-color="#c15539"/><stop offset="0.608" stop-color="#b22e25"/><stop offset="0.647" stop-color="#a11b29"/><stop offset="0.716" stop-color="#84102b"/><stop offset="0.832" stop-color="#620e23"/><stop offset="1.000" stop-color="#540d1e"/></linearGradient><linearGradient id="g72" x1="0" y1="0" x2="0" y2="1"><stop offset="0.000" stop-color="#589cbc"/><stop offset="0.332" stop-color="#5b9dbc"/><stop offset="0.341" stop-color="#62a1bd"/><stop offset="0.371" stop-color="#aac2cb"/><stop offset="0.384" stop-color="#d7dbdc"/><stop offset="0.388" stop-color="#e6e5e5"/><stop offset="0.392" stop-color="#f0e9e7"/><stop offset="0.414" stop-color="#e1b9aa"/><stop offset="0.427" stop-color="#dcab98"/><stop offset="0.534" stop-color="#c56246"/><stop offset="0.591" stop-color="#b83b29"/><stop offset="0.625" stop-color="#a92327"/><stop offset="0.694" stop-color="#8d112c"/><stop offset="0.832" stop-color="#620e23"/><stop offset="1.000" stop-color="#540d1e"/></linearGradient><linearGradient id="g73" x1="0" y1="0" x2="0" y2="1"><stop offset="0.000" stop-color="#579bbc"/><stop offset="0.319" stop-color="#589cbc"/><stop offset="0.332" stop-color="#63a1bd"/><stop offset="0.362" stop-color="#a9c2cb"/><stop offset="0.375" stop-color="#d6dadc"/><stop offset="0.384" stop-color="#f0e9e8"/><stop offset="0.405" stop-color="#e1b9aa"/><stop offset="0.418" stop-color="#dcab98"/><stop offset="0.517" stop-color="#c8684d"/><stop offset="0.582" stop-color="#b93f2b"/><stop offset="0.616" stop-color="#ad2726"/><stop offset="0.685" stop-color="#91122c"/><stop offset="0.819" stop-color="#630e24"/><stop offset="1.000" stop-color="#540d1e"/></linearGradient><linearGradient id="g74" x1="0" y1="0" x2="0" y2="1"><stop offset="0.000" stop-color="#5499bc"/><stop offset="0.315" stop-color="#569bbc"/><stop offset="0.323" stop-color="#60a0bd"/><stop offset="0.353" stop-color="#a9c2ca"/><stop offset="0.366" stop-color="#d6dadc"/><stop offset="0.375" stop-color="#f0eae8"/><stop offset="0.397" stop-color="#e1b9aa"/><stop offset="0.409" stop-color="#dcaa98"/><stop offset="0.504" stop-color="#c96b50"/><stop offset="0.578" stop-color="#ba402b"/><stop offset="0.612" stop-color="#ae2926"/><stop offset="0.681" stop-color="#93132b"/><stop offset="0.789" stop-color="#6d0f26"/><stop offset="0.845" stop-color="#610e23"/><stop offset="1.000" stop-color="#540d1e"/></linearGradient><linearGradient id="g75" x1="0" y1="0" x2="0" y2="1"><stop offset="0.000" stop-color="#4993bb"/><stop offset="0.310" stop-color="#4a93bb"/><stop offset="0.323" stop-color="#65a2bd"/><stop offset="0.336" stop-color="#89b3c2"/><stop offset="0.341" stop-color="#9dbcc7"/><stop offset="0.349" stop-color="#b5c8ce"/><stop offset="0.362" stop-color="#e8e6e6"/><stop offset="0.366" stop-color="#f0e8e6"/><stop offset="0.388" stop-color="#e0b7a7"/><stop offset="0.418" stop-color="#d89f8a"/><stop offset="0.500" stop-color="#c86b4f"/><stop offset="0.578" stop-color="#b93f2b"/><stop offset="0.616" stop-color="#ac2727"/><stop offset="0.685" stop-color="#91122c"/><stop offset="0.819" stop-color="#630e24"/><stop offset="1.000" stop-color="#540d1e"/></linearGradient><linearGradient id="g76" x1="0" y1="0" x2="0" y2="1"><stop offset="0.000" stop-color="#135dc1"/><stop offset="0.086" stop-color="#155ac2"/><stop offset="0.116" stop-color="#1f4ebb"/><stop offset="0.138" stop-color="#2942ae"/><stop offset="0.159" stop-color="#2942ae"/><stop offset="0.168" stop-color="#2a3c9f"/><stop offset="0.177" stop-color="#2a358c"/><stop offset="0.194" stop-color="#26307d"/><stop offset="0.250" stop-color="#222867"/><stop offset="0.293" stop-color="#242c71"/><stop offset="0.319" stop-color="#2a368e"/><stop offset="0.323" stop-color="#1d50bd"/><stop offset="0.328" stop-color="#136dbd"/><stop offset="0.332" stop-color="#4d96bb"/><stop offset="0.336" stop-color="#89b3c2"/><stop offset="0.341" stop-color="#b0c5cd"/><stop offset="0.345" stop-color="#e1e1e2"/><stop offset="0.349" stop-color="#efe4e1"/><stop offset="0.375" stop-color="#e1b9aa"/><stop offset="0.457" stop-color="#d08369"/><stop offset="0.526" stop-color="#c35b40"/><stop offset="0.595" stop-color="#b43327"/><stop offset="0.655" stop-color="#9e192a"/><stop offset="0.728" stop-color="#800f2b"/><stop offset="0.832" stop-color="#620e23"/><stop offset="1.000" stop-color="#540d1e"/></linearGradient><linearGradient id="g77" x1="0" y1="0" x2="0" y2="1"><stop offset="0.000" stop-color="#1e2359"/><stop offset="0.082" stop-color="#1f245c"/><stop offset="0.121" stop-color="#252d75"/><stop offset="0.147" stop-color="#2940a9"/><stop offset="0.159" stop-color="#2548b5"/><stop offset="0.168" stop-color="#155bc2"/><stop offset="0.172" stop-color="#0e66bf"/><stop offset="0.185" stop-color="#2a7fba"/><stop offset="0.224" stop-color="#8cb4c3"/><stop offset="0.237" stop-color="#b6c8cf"/><stop offset="0.263" stop-color="#dfe0e1"/><stop offset="0.280" stop-color="#e7e6e6"/><stop offset="0.332" stop-color="#f0eae9"/><stop offset="0.345" stop-color="#eee2de"/><stop offset="0.366" stop-color="#e2bdaf"/><stop offset="0.409" stop-color="#d89f8a"/><stop offset="0.496" stop-color="#c96b4f"/><stop offset="0.578" stop-color="#ba402b"/><stop offset="0.621" stop-color="#ad2726"/><stop offset="0.690" stop-color="#90122c"/><stop offset="0.793" stop-color="#6b0f26"/><stop offset="0.845" stop-color="#610e23"/><stop offset="1.000" stop-color="#550d1e"/></linearGradient><linearGradient id="g78" x1="0" y1="0" x2="0" y2="1"><stop offset="0.000" stop-color="#daddde"/><stop offset="0.233" stop-color="#e7e5e6"/><stop offset="0.263" stop-color="#e6e4e5"/><stop offset="0.323" stop-color="#ebe8e8"/><stop offset="0.328" stop-color="#f1eceb"/><stop offset="0.366" stop-color="#e0b6a6"/><stop offset="0.483" stop-color="#ca6f54"/><stop offset="0.578" stop-color="#ba422d"/><stop offset="0.625" stop-color="#af2a26"/><stop offset="0.690" stop-color="#91122c"/><stop offset="0.746" stop-color="#7a0f2a"/><stop offset="0.832" stop-color="#620e23"/><stop offset="1.000" stop-color="#580e20"/></linearGradient><linearGradient id="g79" x1="0" y1="0" x2="0" y2="1"><stop offset="0.000" stop-color="#65a2bd"/><stop offset="0.155" stop-color="#5399bc"/><stop offset="0.246" stop-color="#77aabf"/><stop offset="0.272" stop-color="#81afc1"/><stop offset="0.319" stop-color="#cbd3d6"/><stop offset="0.328" stop-color="#d3d8da"/><stop offset="0.375" stop-color="#e2e2e3"/><stop offset="0.591" stop-color="#f1ebe9"/><stop offset="0.659" stop-color="#ddaf9d"/><stop offset="0.737" stop-color="#c66549"/><stop offset="0.767" stop-color="#ba422c"/><stop offset="0.806" stop-color="#af2a26"/><stop offset="0.879" stop-color="#8f122c"/><stop offset="1.000" stop-color="#620e23"/></linearGradient><linearGradient id="g80" x1="0" y1="0" x2="0" y2="1"><stop offset="0.000" stop-color="#2f83ba"/><stop offset="0.155" stop-color="#3989ba"/><stop offset="0.272" stop-color="#1973bb"/><stop offset="0.375" stop-color="#0e67be"/><stop offset="0.509" stop-color="#145dc1"/><stop offset="0.591" stop-color="#145dc1"/><stop offset="0.599" stop-color="#136dbd"/><stop offset="0.608" stop-color="#2d81ba"/><stop offset="0.612" stop-color="#438fbb"/><stop offset="0.625" stop-color="#a3bec8"/><stop offset="0.638" stop-color="#e6e5e5"/><stop offset="0.642" stop-color="#efe6e4"/><stop offset="0.664" stop-color="#f0e9e7"/><stop offset="0.685" stop-color="#e4c2b6"/><stop offset="0.772" stop-color="#c7664b"/><stop offset="0.810" stop-color="#b93f2b"/><stop offset="0.832" stop-color="#af2a26"/><stop offset="0.884" stop-color="#93132b"/><stop offset="1.000" stop-color="#650e24"/></linearGradient><linearGradient id="g81" x1="0" y1="0" x2="0" y2="1"><stop offset="0.000" stop-color="#bbcbd0"/><stop offset="0.181" stop-color="#cbd3d6"/><stop offset="0.306" stop-color="#c9d2d5"/><stop offset="0.405" stop-color="#7cadc0"/><stop offset="0.470" stop-color="#67a3be"/><stop offset="0.539" stop-color="#85b1c2"/><stop offset="0.573" stop-color="#cad2d5"/><stop offset="0.591" stop-color="#edeae9"/><stop offset="0.616" stop-color="#f1ebe9"/><stop offset="0.634" stop-color="#f0ebea"/><stop offset="0.664" stop-color="#e5c5b9"/><stop offset="0.703" stop-color="#d9a18d"/><stop offset="0.750" stop-color="#c86b4f"/><stop offset="0.789" stop-color="#ba402b"/><stop offset="0.823" stop-color="#ad2726"/><stop offset="0.879" stop-color="#92132b"/><stop offset="1.000" stop-color="#640e24"/></linearGradient><linearGradient id="g82" x1="0" y1="0" x2="0" y2="1"><stop offset="0.000" stop-color="#c7664b"/><stop offset="0.228" stop-color="#c7674c"/><stop offset="0.310" stop-color="#c96d51"/><stop offset="0.341" stop-color="#d08369"/><stop offset="0.379" stop-color="#deb1a0"/><stop offset="0.470" stop-color="#e6c9be"/><stop offset="0.526" stop-color="#dfb3a3"/><stop offset="0.599" stop-color="#d18970"/><stop offset="0.655" stop-color="#c45d41"/><stop offset="0.716" stop-color="#b43327"/><stop offset="0.776" stop-color="#99152b"/><stop offset="0.897" stop-color="#740f29"/><stop offset="1.000" stop-color="#5f0e23"/></linearGradient><linearGradient id="g83" x1="0" y1="0" x2="0" y2="1"><stop offset="0.000" stop-color="#c86a4e"/><stop offset="0.323" stop-color="#cb7357"/><stop offset="0.474" stop-color="#c66348"/><stop offset="0.547" stop-color="#b93e2a"/><stop offset="0.591" stop-color="#ac2727"/><stop offset="0.655" stop-color="#91122c"/><stop offset="0.724" stop-color="#730f28"/><stop offset="0.832" stop-color="#5f0e22"/><stop offset="1.000" stop-color="#5a0e21"/></linearGradient><linearGradient id="g84" x1="0" y1="0" x2="0" y2="1"><stop offset="0.000" stop-color="#cf7e64"/><stop offset="0.198" stop-color="#ce7b60"/><stop offset="0.427" stop-color="#c86a4e"/><stop offset="0.478" stop-color="#c56145"/><stop offset="0.552" stop-color="#b83b29"/><stop offset="0.591" stop-color="#ac2727"/><stop offset="0.655" stop-color="#91122c"/><stop offset="0.724" stop-color="#730f28"/><stop offset="0.836" stop-color="#5d0e22"/><stop offset="1.000" stop-color="#570e20"/></linearGradient><linearGradient id="g85" x1="0" y1="0" x2="0" y2="1"><stop offset="0.000" stop-color="#d4927a"/><stop offset="0.172" stop-color="#d38f77"/><stop offset="0.470" stop-color="#c7654a"/><stop offset="0.547" stop-color="#b93e2a"/><stop offset="0.591" stop-color="#ac2727"/><stop offset="0.655" stop-color="#91122c"/><stop offset="0.724" stop-color="#730f28"/><stop offset="0.836" stop-color="#5d0e22"/><stop offset="1.000" stop-color="#570e20"/></linearGradient><linearGradient id="g86" x1="0" y1="0" x2="0" y2="1"><stop offset="0.000" stop-color="#daa490"/><stop offset="0.164" stop-color="#d9a28e"/><stop offset="0.358" stop-color="#cf8065"/><stop offset="0.478" stop-color="#c56146"/><stop offset="0.552" stop-color="#b83c29"/><stop offset="0.591" stop-color="#ac2727"/><stop offset="0.655" stop-color="#91122c"/><stop offset="0.724" stop-color="#730f28"/><stop offset="0.836" stop-color="#5d0e22"/><stop offset="1.000" stop-color="#570e20"/></linearGradient><linearGradient id="g87" x1="0" y1="0" x2="0" y2="1"><stop offset="0.000" stop-color="#deb1a0"/><stop offset="0.164" stop-color="#ddaf9e"/><stop offset="0.323" stop-color="#d4937b"/><stop offset="0.483" stop-color="#c56145"/><stop offset="0.556" stop-color="#b73a29"/><stop offset="0.599" stop-color="#a92327"/><stop offset="0.659" stop-color="#8f122c"/><stop offset="0.724" stop-color="#730f28"/><stop offset="0.836" stop-color="#5d0e22"/><stop offset="1.000" stop-color="#570e20"/></linearGradient><linearGradient id="g88" x1="0" y1="0" x2="0" y2="1"><stop offset="0.000" stop-color="#e2bcae"/><stop offset="0.168" stop-color="#e1b9aa"/><stop offset="0.319" stop-color="#d9a08b"/><stop offset="0.487" stop-color="#c56146"/><stop offset="0.556" stop-color="#b83b29"/><stop offset="0.595" stop-color="#ab2527"/><stop offset="0.655" stop-color="#91122c"/><stop offset="0.724" stop-color="#730f28"/><stop offset="0.836" stop-color="#5d0e22"/><stop offset="1.000" stop-color="#570e20"/></linearGradient><linearGradient id="g89" x1="0" y1="0" x2="0" y2="1"><stop offset="0.000" stop-color="#e4c3b7"/><stop offset="0.172" stop-color="#e3c0b4"/><stop offset="0.315" stop-color="#ddad9c"/><stop offset="0.496" stop-color="#c45f44"/><stop offset="0.565" stop-color="#b63728"/><stop offset="0.612" stop-color="#a51e28"/><stop offset="0.668" stop-color="#8b112c"/><stop offset="0.724" stop-color="#730f28"/><stop offset="0.836" stop-color="#5d0e22"/><stop offset="1.000" stop-color="#570e20"/></linearGradient><linearGradient id="g90" x1="0" y1="0" x2="0" y2="1"><stop offset="0.000" stop-color="#e6c9bf"/><stop offset="0.190" stop-color="#e5c6bb"/><stop offset="0.310" stop-color="#e2bcad"/><stop offset="0.504" stop-color="#c45d42"/><stop offset="0.569" stop-color="#b53627"/><stop offset="0.634" stop-color="#9b172b"/><stop offset="0.716" stop-color="#750f29"/><stop offset="0.836" stop-color="#5d0e22"/><stop offset="1.000" stop-color="#570e20"/></linearGradient><linearGradient id="g91" x1="0" y1="0" x2="0" y2="1"><stop offset="0.000" stop-color="#e8d0c8"/><stop offset="0.310" stop-color="#e7cdc3"/><stop offset="0.491" stop-color="#c8684d"/><stop offset="0.560" stop-color="#b93f2b"/><stop offset="0.595" stop-color="#ad2826"/><stop offset="0.647" stop-color="#95142b"/><stop offset="0.724" stop-color="#730f28"/><stop offset="0.836" stop-color="#5d0e22"/><stop offset="1.000" stop-color="#570e20"/></linearGradient><linearGradient id="g92" x1="0" y1="0" x2="0" y2="1"><stop offset="0.000" stop-color="#ecdad5"/><stop offset="0.306" stop-color="#eddfdb"/><stop offset="0.504" stop-color="#c8684d"/><stop offset="0.569" stop-color="#b93e2a"/><stop offset="0.599" stop-color="#ad2726"/><stop offset="0.642" stop-color="#97142b"/><stop offset="0.724" stop-color="#730f28"/><stop offset="0.836" stop-color="#5d0e22"/><stop offset="1.000" stop-color="#570e20"/></linearGradient><linearGradient id="g93" x1="0" y1="0" x2="0" y2="1"><stop offset="0.000" stop-color="#efe6e3"/><stop offset="0.310" stop-color="#efe5e2"/><stop offset="0.474" stop-color="#d89d88"/><stop offset="0.534" stop-color="#c66448"/><stop offset="0.578" stop-color="#b93e2a"/><stop offset="0.603" stop-color="#ac2727"/><stop offset="0.638" stop-color="#99152b"/><stop offset="0.724" stop-color="#730f28"/><stop offset="0.832" stop-color="#5e0e22"/><stop offset="1.000" stop-color="#5a0e21"/></linearGradient><linearGradient id="g94" x1="0" y1="0" x2="0" y2="1"><stop offset="0.000" stop-color="#136dbd"/><stop offset="0.366" stop-color="#136dbd"/><stop offset="0.371" stop-color="#1872bb"/><stop offset="0.388" stop-color="#5198bc"/><stop offset="0.405" stop-color="#a6c0c9"/><stop offset="0.414" stop-color="#d4d9db"/><stop offset="0.422" stop-color="#f1ebea"/><stop offset="0.427" stop-color="#efe6e3"/><stop offset="0.448" stop-color="#efe5e2"/><stop offset="0.509" stop-color="#e5c5ba"/><stop offset="0.616" stop-color="#d69983"/><stop offset="0.685" stop-color="#cb7357"/><stop offset="0.728" stop-color="#bb452f"/><stop offset="0.746" stop-color="#b43226"/><stop offset="0.815" stop-color="#98152b"/><stop offset="0.914" stop-color="#710f28"/><stop offset="1.000" stop-color="#5d0e22"/></linearGradient><linearGradient id="g95" x1="0" y1="0" x2="0" y2="1"><stop offset="0.000" stop-color="#eee2de"/><stop offset="0.323" stop-color="#eddfda"/><stop offset="0.414" stop-color="#ead5ce"/><stop offset="0.444" stop-color="#ead6cf"/><stop offset="0.569" stop-color="#e2bdaf"/><stop offset="0.625" stop-color="#dba895"/><stop offset="0.716" stop-color="#c66347"/><stop offset="0.750" stop-color="#b93d2a"/><stop offset="0.772" stop-color="#ad2826"/><stop offset="0.836" stop-color="#90122c"/><stop offset="0.944" stop-color="#6b0f26"/><stop offset="1.000" stop-color="#5d0e22"/></linearGradient><linearGradient id="g96" x1="0" y1="0" x2="0" y2="1"><stop offset="0.000" stop-color="#d28b72"/><stop offset="0.168" stop-color="#d38e75"/><stop offset="0.306" stop-color="#d9a38e"/><stop offset="0.435" stop-color="#c96c50"/><stop offset="0.560" stop-color="#bb452e"/><stop offset="0.638" stop-color="#ae2926"/><stop offset="0.707" stop-color="#92132b"/><stop offset="0.797" stop-color="#6a0f26"/><stop offset="0.978" stop-color="#5d0e22"/><stop offset="1.000" stop-color="#5a0e21"/></linearGradient><linearGradient id="g97" x1="0" y1="0" x2="0" y2="1"><stop offset="0.000" stop-color="#cc765a"/><stop offset="0.332" stop-color="#ca7054"/><stop offset="0.491" stop-color="#c1563b"/><stop offset="0.625" stop-color="#b22e25"/><stop offset="0.707" stop-color="#91122c"/><stop offset="0.797" stop-color="#690e25"/><stop offset="1.000" stop-color="#570e20"/></linearGradient><linearGradient id="g98" x1="0" y1="0" x2="0" y2="1"><stop offset="0.000" stop-color="#cb7357"/><stop offset="0.328" stop-color="#ca6f53"/><stop offset="0.504" stop-color="#bf5036"/><stop offset="0.629" stop-color="#b02c25"/><stop offset="0.703" stop-color="#90122c"/><stop offset="0.793" stop-color="#670e25"/><stop offset="1.000" stop-color="#570d1f"/></linearGradient><linearGradient id="g99" x1="0" y1="0" x2="0" y2="1"><stop offset="0.000" stop-color="#96142b"/><stop offset="0.328" stop-color="#93132b"/><stop offset="0.552" stop-color="#780f2a"/><stop offset="0.776" stop-color="#660e24"/><stop offset="1.000" stop-color="#540d1e"/></linearGradient><linearGradient id="g100" x1="0" y1="0" x2="0" y2="1"><stop offset="0.000" stop-color="#680e25"/><stop offset="0.655" stop-color="#680e25"/><stop offset="1.000" stop-color="#510c1c"/></linearGradient><linearGradient id="g101" x1="0" y1="0" x2="0" y2="1"><stop offset="0.000" stop-color="#670e25"/><stop offset="0.655" stop-color="#690e25"/><stop offset="1.000" stop-color="#4f0c1c"/></linearGradient><linearGradient id="g102" x1="0" y1="0" x2="0" y2="1"><stop offset="0.000" stop-color="#cb7256"/><stop offset="0.138" stop-color="#cc765a"/><stop offset="0.168" stop-color="#cc7559"/><stop offset="0.341" stop-color="#bc4730"/><stop offset="0.418" stop-color="#af2a26"/><stop offset="0.483" stop-color="#98152b"/><stop offset="0.672" stop-color="#710f28"/><stop offset="0.862" stop-color="#5b0e21"/><stop offset="1.000" stop-color="#500c1c"/></linearGradient><linearGradient id="g103" x1="0" y1="0" x2="0" y2="1"><stop offset="0.000" stop-color="#e9e6e6"/><stop offset="0.022" stop-color="#f0eae9"/><stop offset="0.082" stop-color="#e8cfc6"/><stop offset="0.155" stop-color="#d38e75"/><stop offset="0.263" stop-color="#c56044"/><stop offset="0.362" stop-color="#bc462f"/><stop offset="0.474" stop-color="#b73928"/><stop offset="0.526" stop-color="#a92228"/><stop offset="0.595" stop-color="#8e122c"/><stop offset="0.655" stop-color="#7c0f2a"/><stop offset="0.823" stop-color="#600e23"/><stop offset="1.000" stop-color="#510c1c"/></linearGradient><linearGradient id="g104" x1="0" y1="0" x2="0" y2="1"><stop offset="0.000" stop-color="#d7dbdd"/><stop offset="0.078" stop-color="#f1eceb"/><stop offset="0.155" stop-color="#e0b7a7"/><stop offset="0.216" stop-color="#cf7f65"/><stop offset="0.250" stop-color="#c7664b"/><stop offset="0.353" stop-color="#bd4b32"/><stop offset="0.474" stop-color="#b83b29"/><stop offset="0.522" stop-color="#ac2627"/><stop offset="0.599" stop-color="#90122c"/><stop offset="0.659" stop-color="#7e0f2b"/><stop offset="0.819" stop-color="#610e23"/><stop offset="1.000" stop-color="#510c1c"/></linearGradient><linearGradient id="g105" x1="0" y1="0" x2="0" y2="1"><stop offset="0.000" stop-color="#d3d9db"/><stop offset="0.151" stop-color="#e7e6e6"/><stop offset="0.168" stop-color="#f0eae9"/><stop offset="0.250" stop-color="#d39077"/><stop offset="0.336" stop-color="#bf5036"/><stop offset="0.474" stop-color="#b83c29"/><stop offset="0.526" stop-color="#ab2527"/><stop offset="0.603" stop-color="#8f122c"/><stop offset="0.668" stop-color="#7d0f2a"/><stop offset="0.819" stop-color="#610e23"/><stop offset="1.000" stop-color="#510c1c"/></linearGradient><linearGradient id="g106" x1="0" y1="0" x2="0" y2="1"><stop offset="0.000" stop-color="#d3d8da"/><stop offset="0.155" stop-color="#dedfe0"/><stop offset="0.185" stop-color="#f1ebea"/><stop offset="0.250" stop-color="#e2bcae"/><stop offset="0.297" stop-color="#cf8066"/><stop offset="0.336" stop-color="#c15439"/><stop offset="0.478" stop-color="#b83c29"/><stop offset="0.526" stop-color="#ac2627"/><stop offset="0.603" stop-color="#8f122c"/><stop offset="0.664" stop-color="#7e0f2b"/><stop offset="0.819" stop-color="#610e23"/><stop offset="1.000" stop-color="#510c1c"/></linearGradient><linearGradient id="g107" x1="0" y1="0" x2="0" y2="1"><stop offset="0.000" stop-color="#d2d8da"/><stop offset="0.190" stop-color="#d7dbdd"/><stop offset="0.237" stop-color="#efeaea"/><stop offset="0.254" stop-color="#ecdcd6"/><stop offset="0.293" stop-color="#ddaf9d"/><stop offset="0.323" stop-color="#ca7054"/><stop offset="0.336" stop-color="#c2593e"/><stop offset="0.478" stop-color="#ba412c"/><stop offset="0.526" stop-color="#ae2926"/><stop offset="0.603" stop-color="#90122c"/><stop offset="0.651" stop-color="#810f2b"/><stop offset="0.819" stop-color="#610e23"/><stop offset="1.000" stop-color="#510c1c"/></linearGradient><linearGradient id="g108" x1="0" y1="0" x2="0" y2="1"><stop offset="0.000" stop-color="#cfd6d8"/><stop offset="0.207" stop-color="#ccd4d7"/><stop offset="0.259" stop-color="#f1eceb"/><stop offset="0.302" stop-color="#e1baac"/><stop offset="0.336" stop-color="#ce7c61"/><stop offset="0.375" stop-color="#c35b40"/><stop offset="0.478" stop-color="#bc4830"/><stop offset="0.534" stop-color="#af2a26"/><stop offset="0.608" stop-color="#91122c"/><stop offset="0.659" stop-color="#81102b"/><stop offset="0.819" stop-color="#630e24"/><stop offset="1.000" stop-color="#520d1d"/></linearGradient><linearGradient id="g109" x1="0" y1="0" x2="0" y2="1"><stop offset="0.000" stop-color="#a9c2ca"/><stop offset="0.228" stop-color="#bcccd1"/><stop offset="0.293" stop-color="#f1ebea"/><stop offset="0.310" stop-color="#ede1dd"/><stop offset="0.323" stop-color="#e6cabf"/><stop offset="0.341" stop-color="#dba894"/><stop offset="0.375" stop-color="#c96e52"/><stop offset="0.483" stop-color="#be4c33"/><stop offset="0.539" stop-color="#b12d25"/><stop offset="0.616" stop-color="#91132b"/><stop offset="0.793" stop-color="#6a0f26"/><stop offset="1.000" stop-color="#540d1e"/></linearGradient><linearGradient id="g110" x1="0" y1="0" x2="0" y2="1"><stop offset="0.000" stop-color="#2a368e"/><stop offset="0.362" stop-color="#2a368e"/><stop offset="0.366" stop-color="#2a3b9d"/><stop offset="0.371" stop-color="#2448b6"/><stop offset="0.375" stop-color="#1658c3"/><stop offset="0.379" stop-color="#0e67be"/><stop offset="0.384" stop-color="#1e77ba"/><stop offset="0.397" stop-color="#76aabf"/><stop offset="0.401" stop-color="#94b8c5"/><stop offset="0.405" stop-color="#aac2cb"/><stop offset="0.418" stop-color="#daddde"/><stop offset="0.427" stop-color="#e8e6e6"/><stop offset="0.435" stop-color="#efebea"/><stop offset="0.444" stop-color="#eee2de"/><stop offset="0.474" stop-color="#deb1a0"/><stop offset="0.629" stop-color="#ca6f53"/><stop offset="0.685" stop-color="#ba412c"/><stop offset="0.711" stop-color="#ae2926"/><stop offset="0.741" stop-color="#98152b"/><stop offset="0.866" stop-color="#6c0f26"/><stop offset="1.000" stop-color="#560d1f"/></linearGradient><linearGradient id="g111" x1="0" y1="0" x2="0" y2="1"><stop offset="0.000" stop-color="#daa591"/><stop offset="0.164" stop-color="#d9a38e"/><stop offset="0.310" stop-color="#d18970"/><stop offset="0.379" stop-color="#c56044"/><stop offset="0.453" stop-color="#b73a29"/><stop offset="0.500" stop-color="#aa2427"/><stop offset="0.578" stop-color="#8d112c"/><stop offset="0.638" stop-color="#780f2a"/><stop offset="0.862" stop-color="#610e23"/><stop offset="1.000" stop-color="#540d1e"/></linearGradient><linearGradient id="g112" x1="0" y1="0" x2="0" y2="1"><stop offset="0.000" stop-color="#daa490"/><stop offset="0.164" stop-color="#d9a28e"/><stop offset="0.310" stop-color="#d1886f"/><stop offset="0.384" stop-color="#c35c41"/><stop offset="0.461" stop-color="#b43326"/><stop offset="0.547" stop-color="#99152b"/><stop offset="0.638" stop-color="#780f2a"/><stop offset="0.871" stop-color="#5e0e22"/><stop offset="1.000" stop-color="#520d1d"/></linearGradient><linearGradient id="g113" x1="0" y1="0" x2="0" y2="1"><stop offset="0.000" stop-color="#d9a18c"/><stop offset="0.164" stop-color="#d8a08b"/><stop offset="0.310" stop-color="#d0856b"/><stop offset="0.388" stop-color="#c1563b"/><stop offset="0.461" stop-color="#b22f25"/><stop offset="0.556" stop-color="#96142b"/><stop offset="0.642" stop-color="#7a0f2a"/><stop offset="0.849" stop-color="#5f0e22"/><stop offset="1.000" stop-color="#510c1c"/></linearGradient><linearGradient id="g114" x1="0" y1="0" x2="0" y2="1"><stop offset="0.000" stop-color="#d5947c"/><stop offset="0.203" stop-color="#ce7e64"/><stop offset="0.310" stop-color="#cc7459"/><stop offset="0.366" stop-color="#be4c33"/><stop offset="0.444" stop-color="#b02c25"/><stop offset="0.556" stop-color="#95142b"/><stop offset="0.685" stop-color="#760f29"/><stop offset="0.832" stop-color="#600e23"/><stop offset="1.000" stop-color="#510c1c"/></linearGradient><linearGradient id="g115" x1="0" y1="0" x2="0" y2="1"><stop offset="0.000" stop-color="#cd785c"/><stop offset="0.164" stop-color="#bf4e34"/><stop offset="0.366" stop-color="#b33126"/><stop offset="0.539" stop-color="#95142b"/><stop offset="0.806" stop-color="#610e23"/><stop offset="1.000" stop-color="#500c1c"/></linearGradient><linearGradient id="g116" x1="0" y1="0" x2="0" y2="1"><stop offset="0.000" stop-color="#b22f25"/><stop offset="0.159" stop-color="#b43226"/><stop offset="0.319" stop-color="#9a162b"/><stop offset="0.483" stop-color="#96142b"/><stop offset="0.797" stop-color="#600e23"/><stop offset="1.000" stop-color="#4e0c1b"/></linearGradient><linearGradient id="g117" x1="0" y1="0" x2="0" y2="1"><stop offset="0.000" stop-color="#6d0f26"/><stop offset="0.328" stop-color="#6d0f27"/><stop offset="0.534" stop-color="#580e20"/><stop offset="0.634" stop-color="#560d1f"/><stop offset="0.720" stop-color="#630e24"/><stop offset="1.000" stop-color="#4c0c1a"/></linearGradient><linearGradient id="g118" x1="0" y1="0" x2="0" y2="1"><stop offset="0.000" stop-color="#b22e25"/><stop offset="0.323" stop-color="#ae2a26"/><stop offset="0.509" stop-color="#90122c"/><stop offset="0.672" stop-color="#700f27"/><stop offset="1.000" stop-color="#4f0c1b"/></linearGradient><linearGradient id="g119" x1="0" y1="0" x2="0" y2="1"><stop offset="0.000" stop-color="#deb1a0"/><stop offset="0.185" stop-color="#ddae9d"/><stop offset="0.315" stop-color="#d9a28d"/><stop offset="0.414" stop-color="#cf7f65"/><stop offset="0.500" stop-color="#c56044"/><stop offset="0.625" stop-color="#b53427"/><stop offset="0.694" stop-color="#96142b"/><stop offset="0.789" stop-color="#6b0f26"/><stop offset="1.000" stop-color="#520d1d"/></linearGradient><linearGradient id="g120" x1="0" y1="0" x2="0" y2="1"><stop offset="0.000" stop-color="#b2c6ce"/><stop offset="0.198" stop-color="#d7dbdc"/><stop offset="0.306" stop-color="#f1eceb"/><stop offset="0.366" stop-color="#dcac9a"/><stop offset="0.478" stop-color="#d28b73"/><stop offset="0.560" stop-color="#c55f44"/><stop offset="0.638" stop-color="#b53527"/><stop offset="0.698" stop-color="#97142b"/><stop offset="0.776" stop-color="#760f29"/><stop offset="0.841" stop-color="#660e24"/><stop offset="1.000" stop-color="#550d1f"/></linearGradient><linearGradient id="g121" x1="0" y1="0" x2="0" y2="1"><stop offset="0.000" stop-color="#222867"/><stop offset="0.086" stop-color="#252c73"/><stop offset="0.164" stop-color="#2a3791"/><stop offset="0.293" stop-color="#2940a8"/><stop offset="0.315" stop-color="#2646b4"/><stop offset="0.328" stop-color="#234ab7"/><stop offset="0.345" stop-color="#1659c2"/><stop offset="0.358" stop-color="#0e69be"/><stop offset="0.388" stop-color="#3184ba"/><stop offset="0.397" stop-color="#4d95bb"/><stop offset="0.414" stop-color="#8fb5c4"/><stop offset="0.422" stop-color="#aac2cb"/><stop offset="0.431" stop-color="#d2d7da"/><stop offset="0.440" stop-color="#ece8e8"/><stop offset="0.448" stop-color="#efe7e4"/><stop offset="0.470" stop-color="#f1ecea"/><stop offset="0.504" stop-color="#e5c6bb"/><stop offset="0.539" stop-color="#d89d88"/><stop offset="0.603" stop-color="#c45c41"/><stop offset="0.638" stop-color="#b93d2a"/><stop offset="0.668" stop-color="#ab2527"/><stop offset="0.711" stop-color="#8f122c"/><stop offset="0.832" stop-color="#680e25"/><stop offset="1.000" stop-color="#570d1f"/></linearGradient><linearGradient id="g122" x1="0" y1="0" x2="0" y2="1"><stop offset="0.000" stop-color="#1063c0"/><stop offset="0.073" stop-color="#106bbd"/><stop offset="0.220" stop-color="#1670bc"/><stop offset="0.293" stop-color="#126dbd"/><stop offset="0.297" stop-color="#0d67be"/><stop offset="0.306" stop-color="#1658c3"/><stop offset="0.323" stop-color="#2942af"/><stop offset="0.345" stop-color="#2940a9"/><stop offset="0.379" stop-color="#2a3894"/><stop offset="0.397" stop-color="#2a368f"/><stop offset="0.401" stop-color="#2943b1"/><stop offset="0.405" stop-color="#0d68be"/><stop offset="0.409" stop-color="#3586ba"/><stop offset="0.418" stop-color="#82b0c1"/><stop offset="0.427" stop-color="#c1ced3"/><stop offset="0.431" stop-color="#dddfe0"/><stop offset="0.435" stop-color="#f1ebe9"/><stop offset="0.461" stop-color="#deb09f"/><stop offset="0.500" stop-color="#d69983"/><stop offset="0.556" stop-color="#ce7b61"/><stop offset="0.616" stop-color="#bd4931"/><stop offset="0.655" stop-color="#b02b26"/><stop offset="0.707" stop-color="#92132b"/><stop offset="0.828" stop-color="#690e25"/><stop offset="1.000" stop-color="#570e20"/></linearGradient><linearGradient id="g123" x1="0" y1="0" x2="0" y2="1"><stop offset="0.000" stop-color="#1a74bb"/><stop offset="0.341" stop-color="#1972bb"/><stop offset="0.349" stop-color="#237aba"/><stop offset="0.362" stop-color="#1d76ba"/><stop offset="0.366" stop-color="#247bba"/><stop offset="0.392" stop-color="#89b3c2"/><stop offset="0.405" stop-color="#d0d7d9"/><stop offset="0.409" stop-color="#eae7e7"/><stop offset="0.414" stop-color="#eee4e0"/><stop offset="0.431" stop-color="#e4c2b5"/><stop offset="0.444" stop-color="#deb1a0"/><stop offset="0.556" stop-color="#cc765b"/><stop offset="0.616" stop-color="#bc452f"/><stop offset="0.651" stop-color="#b02b26"/><stop offset="0.707" stop-color="#92132b"/><stop offset="0.828" stop-color="#690e25"/><stop offset="1.000" stop-color="#570e20"/></linearGradient><linearGradient id="g124" x1="0" y1="0" x2="0" y2="1"><stop offset="0.000" stop-color="#1d76ba"/><stop offset="0.233" stop-color="#146ebc"/><stop offset="0.341" stop-color="#136ebc"/><stop offset="0.345" stop-color="#1d76ba"/><stop offset="0.362" stop-color="#75aabf"/><stop offset="0.379" stop-color="#c2ced3"/><stop offset="0.388" stop-color="#ebe8e8"/><stop offset="0.392" stop-color="#efe5e2"/><stop offset="0.418" stop-color="#e1baac"/><stop offset="0.560" stop-color="#c8694d"/><stop offset="0.621" stop-color="#b93e2a"/><stop offset="0.655" stop-color="#ac2627"/><stop offset="0.707" stop-color="#91132b"/><stop offset="0.832" stop-color="#680e25"/><stop offset="1.000" stop-color="#570d1f"/></linearGradient><linearGradient id="g125" x1="0" y1="0" x2="0" y2="1"><stop offset="0.000" stop-color="#2845b2"/><stop offset="0.328" stop-color="#2647b4"/><stop offset="0.332" stop-color="#1d50bd"/><stop offset="0.336" stop-color="#1260c0"/><stop offset="0.341" stop-color="#0f6abd"/><stop offset="0.345" stop-color="#1f78ba"/><stop offset="0.353" stop-color="#64a2bd"/><stop offset="0.362" stop-color="#abc3cb"/><stop offset="0.371" stop-color="#f0eae9"/><stop offset="0.392" stop-color="#e2bcae"/><stop offset="0.401" stop-color="#deb1a0"/><stop offset="0.509" stop-color="#cf7f65"/><stop offset="0.595" stop-color="#bd4831"/><stop offset="0.638" stop-color="#af2b26"/><stop offset="0.703" stop-color="#91132b"/><stop offset="0.832" stop-color="#660e25"/><stop offset="1.000" stop-color="#560d1f"/></linearGradient><linearGradient id="g126" x1="0" y1="0" x2="0" y2="1"><stop offset="0.000" stop-color="#9ebcc7"/><stop offset="0.198" stop-color="#b6c8cf"/><stop offset="0.263" stop-color="#c6d0d4"/><stop offset="0.315" stop-color="#eeeae9"/><stop offset="0.328" stop-color="#f1eae9"/><stop offset="0.345" stop-color="#eee1dd"/><stop offset="0.366" stop-color="#e2bdaf"/><stop offset="0.397" stop-color="#ddaf9d"/><stop offset="0.504" stop-color="#cd7a5f"/><stop offset="0.591" stop-color="#bc462f"/><stop offset="0.634" stop-color="#af2a26"/><stop offset="0.694" stop-color="#92132b"/><stop offset="0.750" stop-color="#7b0f2a"/><stop offset="0.832" stop-color="#640e24"/><stop offset="1.000" stop-color="#550d1e"/></linearGradient><linearGradient id="g127" x1="0" y1="0" x2="0" y2="1"><stop offset="0.000" stop-color="#92b7c4"/><stop offset="0.164" stop-color="#9fbdc7"/><stop offset="0.250" stop-color="#b9cad0"/><stop offset="0.310" stop-color="#ebe8e7"/><stop offset="0.328" stop-color="#f0e9e8"/><stop offset="0.345" stop-color="#e9d1c8"/><stop offset="0.379" stop-color="#dfb4a3"/><stop offset="0.427" stop-color="#d4937b"/><stop offset="0.578" stop-color="#bd4a32"/><stop offset="0.634" stop-color="#ae2a26"/><stop offset="0.690" stop-color="#93132b"/><stop offset="0.733" stop-color="#7f0f2b"/><stop offset="0.832" stop-color="#620e23"/><stop offset="1.000" stop-color="#540d1e"/></linearGradient><linearGradient id="g128" x1="0" y1="0" x2="0" y2="1"><stop offset="0.000" stop-color="#8bb4c3"/><stop offset="0.168" stop-color="#9dbcc7"/><stop offset="0.250" stop-color="#b8c9d0"/><stop offset="0.293" stop-color="#e5e4e4"/><stop offset="0.323" stop-color="#f1eceb"/><stop offset="0.345" stop-color="#e8cec4"/><stop offset="0.422" stop-color="#d49179"/><stop offset="0.565" stop-color="#bf4e35"/><stop offset="0.629" stop-color="#b02c25"/><stop offset="0.690" stop-color="#92132b"/><stop offset="0.728" stop-color="#800f2b"/><stop offset="0.832" stop-color="#620e23"/><stop offset="1.000" stop-color="#540d1e"/></linearGradient><linearGradient id="g129" x1="0" y1="0" x2="0" y2="1"><stop offset="0.000" stop-color="#87b2c2"/><stop offset="0.168" stop-color="#9cbbc7"/><stop offset="0.241" stop-color="#b6c8cf"/><stop offset="0.284" stop-color="#e9e7e7"/><stop offset="0.315" stop-color="#f1ebe9"/><stop offset="0.328" stop-color="#efe4e1"/><stop offset="0.345" stop-color="#e7cbc1"/><stop offset="0.422" stop-color="#d39077"/><stop offset="0.560" stop-color="#bf4f35"/><stop offset="0.625" stop-color="#b22d25"/><stop offset="0.690" stop-color="#92132b"/><stop offset="0.733" stop-color="#7e0f2b"/><stop offset="0.832" stop-color="#620e23"/><stop offset="1.000" stop-color="#540d1e"/></linearGradient><linearGradient id="g130" x1="0" y1="0" x2="0" y2="1"><stop offset="0.000" stop-color="#84b1c1"/><stop offset="0.168" stop-color="#9cbbc7"/><stop offset="0.224" stop-color="#b2c6ce"/><stop offset="0.246" stop-color="#cad3d6"/><stop offset="0.272" stop-color="#efebea"/><stop offset="0.319" stop-color="#eddeda"/><stop offset="0.362" stop-color="#e1b9ab"/><stop offset="0.427" stop-color="#d28c73"/><stop offset="0.556" stop-color="#bf4f35"/><stop offset="0.621" stop-color="#b12d25"/><stop offset="0.685" stop-color="#93132b"/><stop offset="0.737" stop-color="#7d0f2a"/><stop offset="0.832" stop-color="#620e23"/><stop offset="1.000" stop-color="#540d1e"/></linearGradient><linearGradient id="g131" x1="0" y1="0" x2="0" y2="1"><stop offset="0.000" stop-color="#82b0c1"/><stop offset="0.099" stop-color="#8db5c3"/><stop offset="0.168" stop-color="#9abbc6"/><stop offset="0.216" stop-color="#adc3cc"/><stop offset="0.259" stop-color="#f0ebea"/><stop offset="0.323" stop-color="#e6cabf"/><stop offset="0.427" stop-color="#d1866c"/><stop offset="0.547" stop-color="#bd4a32"/><stop offset="0.603" stop-color="#b02b26"/><stop offset="0.681" stop-color="#92132b"/><stop offset="0.819" stop-color="#630e24"/><stop offset="1.000" stop-color="#540d1e"/></linearGradient><linearGradient id="g132" x1="0" y1="0" x2="0" y2="1"><stop offset="0.000" stop-color="#82b0c1"/><stop offset="0.073" stop-color="#70a7bf"/><stop offset="0.121" stop-color="#5d9ebc"/><stop offset="0.185" stop-color="#81afc1"/><stop offset="0.207" stop-color="#9ebcc7"/><stop offset="0.216" stop-color="#a6c0ca"/><stop offset="0.237" stop-color="#e0e1e2"/><stop offset="0.241" stop-color="#ebe8e8"/><stop offset="0.246" stop-color="#f1eae9"/><stop offset="0.418" stop-color="#cf8066"/><stop offset="0.530" stop-color="#bc4730"/><stop offset="0.582" stop-color="#ae2926"/><stop offset="0.642" stop-color="#99152b"/><stop offset="0.797" stop-color="#6a0f26"/><stop offset="0.858" stop-color="#600e23"/><stop offset="1.000" stop-color="#540d1e"/></linearGradient><linearGradient id="g133" x1="0" y1="0" x2="0" y2="1"><stop offset="0.000" stop-color="#222969"/><stop offset="0.078" stop-color="#252c74"/><stop offset="0.103" stop-color="#2a3894"/><stop offset="0.121" stop-color="#2745b3"/><stop offset="0.134" stop-color="#1d50bd"/><stop offset="0.177" stop-color="#155bc2"/><stop offset="0.181" stop-color="#145bc2"/><stop offset="0.185" stop-color="#1064bf"/><stop offset="0.190" stop-color="#1871bb"/><stop offset="0.203" stop-color="#5097bc"/><stop offset="0.216" stop-color="#9ebcc7"/><stop offset="0.224" stop-color="#c9d2d5"/><stop offset="0.228" stop-color="#e4e3e4"/><stop offset="0.233" stop-color="#f1eae9"/><stop offset="0.276" stop-color="#e4c4b7"/><stop offset="0.453" stop-color="#c86a4e"/><stop offset="0.543" stop-color="#b93d2a"/><stop offset="0.586" stop-color="#ab2527"/><stop offset="0.638" stop-color="#97142b"/><stop offset="0.802" stop-color="#690e25"/><stop offset="0.888" stop-color="#5d0e22"/><stop offset="1.000" stop-color="#550d1e"/></linearGradient><linearGradient id="g134" x1="0" y1="0" x2="0" y2="1"><stop offset="0.000" stop-color="#f1eceb"/><stop offset="0.164" stop-color="#f0eae8"/><stop offset="0.220" stop-color="#ede0db"/><stop offset="0.228" stop-color="#eee3e0"/><stop offset="0.272" stop-color="#e9d1c8"/><stop offset="0.310" stop-color="#e5c7bc"/><stop offset="0.401" stop-color="#d28b72"/><stop offset="0.474" stop-color="#cc755a"/><stop offset="0.539" stop-color="#bc4830"/><stop offset="0.578" stop-color="#b02b26"/><stop offset="0.634" stop-color="#97142b"/><stop offset="0.810" stop-color="#690e25"/><stop offset="1.000" stop-color="#570e20"/></linearGradient><linearGradient id="g135" x1="0" y1="0" x2="0" y2="1"><stop offset="0.000" stop-color="#27307d"/><stop offset="0.168" stop-color="#2a3894"/><stop offset="0.306" stop-color="#2a3792"/><stop offset="0.310" stop-color="#2940a9"/><stop offset="0.315" stop-color="#214cb9"/><stop offset="0.319" stop-color="#1659c2"/><stop offset="0.323" stop-color="#1062c0"/><stop offset="0.358" stop-color="#1757c3"/><stop offset="0.461" stop-color="#1a54c0"/><stop offset="0.483" stop-color="#214cb9"/><stop offset="0.487" stop-color="#145cc2"/><stop offset="0.491" stop-color="#1f78ba"/><stop offset="0.500" stop-color="#6ba5be"/><stop offset="0.509" stop-color="#b0c5cd"/><stop offset="0.517" stop-color="#e4e4e4"/><stop offset="0.522" stop-color="#f1ebea"/><stop offset="0.543" stop-color="#efe5e2"/><stop offset="0.552" stop-color="#eee4e0"/><stop offset="0.586" stop-color="#e3bfb1"/><stop offset="0.642" stop-color="#d49179"/><stop offset="0.711" stop-color="#bf4f35"/><stop offset="0.746" stop-color="#b12d25"/><stop offset="0.784" stop-color="#98152b"/><stop offset="0.884" stop-color="#6f0f27"/><stop offset="1.000" stop-color="#5d0e22"/></linearGradient><linearGradient id="g136" x1="0" y1="0" x2="0" y2="1"><stop offset="0.000" stop-color="#0f65bf"/><stop offset="0.306" stop-color="#1063bf"/><stop offset="0.323" stop-color="#0f6abd"/><stop offset="0.345" stop-color="#1757c3"/><stop offset="0.358" stop-color="#2942ae"/><stop offset="0.366" stop-color="#2a3893"/><stop offset="0.414" stop-color="#1f255d"/><stop offset="0.427" stop-color="#1e2359"/><stop offset="0.461" stop-color="#1e2359"/><stop offset="0.478" stop-color="#29348a"/><stop offset="0.487" stop-color="#2942ae"/><stop offset="0.500" stop-color="#155ac2"/><stop offset="0.509" stop-color="#116bbd"/><stop offset="0.513" stop-color="#1e77ba"/><stop offset="0.517" stop-color="#3184ba"/><stop offset="0.530" stop-color="#7eaec0"/><stop offset="0.543" stop-color="#c4cfd4"/><stop offset="0.552" stop-color="#f0ebea"/><stop offset="0.556" stop-color="#efe6e3"/><stop offset="0.573" stop-color="#f1eae9"/><stop offset="0.625" stop-color="#deb1a0"/><stop offset="0.711" stop-color="#c56145"/><stop offset="0.750" stop-color="#b83b29"/><stop offset="0.776" stop-color="#a82128"/><stop offset="0.810" stop-color="#95142b"/><stop offset="0.888" stop-color="#750f29"/><stop offset="1.000" stop-color="#600e23"/></linearGradient><linearGradient id="g137" x1="0" y1="0" x2="0" y2="1"><stop offset="0.000" stop-color="#3083ba"/><stop offset="0.306" stop-color="#3083ba"/><stop offset="0.315" stop-color="#1b75bb"/><stop offset="0.332" stop-color="#0d68be"/><stop offset="0.491" stop-color="#145cc2"/><stop offset="0.500" stop-color="#145cc1"/><stop offset="0.509" stop-color="#1063bf"/><stop offset="0.526" stop-color="#145dc1"/><stop offset="0.530" stop-color="#0e67be"/><stop offset="0.543" stop-color="#2d82ba"/><stop offset="0.547" stop-color="#428ebb"/><stop offset="0.560" stop-color="#95b8c5"/><stop offset="0.573" stop-color="#dddfe0"/><stop offset="0.578" stop-color="#f0ebea"/><stop offset="0.582" stop-color="#efe6e3"/><stop offset="0.599" stop-color="#efe6e4"/><stop offset="0.655" stop-color="#e0b7a7"/><stop offset="0.741" stop-color="#c1553a"/><stop offset="0.767" stop-color="#b43226"/><stop offset="0.789" stop-color="#a51f28"/><stop offset="0.828" stop-color="#8f122c"/><stop offset="0.909" stop-color="#730f28"/><stop offset="1.000" stop-color="#600e23"/></linearGradient><linearGradient id="g138" x1="0" y1="0" x2="0" y2="1"><stop offset="0.000" stop-color="#e8cfc6"/><stop offset="0.241" stop-color="#efe7e5"/><stop offset="0.366" stop-color="#f1eceb"/><stop offset="0.504" stop-color="#f0eae8"/><stop offset="0.565" stop-color="#e9d3cb"/><stop offset="0.608" stop-color="#ddad9b"/><stop offset="0.690" stop-color="#c56045"/><stop offset="0.728" stop-color="#b83c29"/><stop offset="0.759" stop-color="#aa2427"/><stop offset="0.793" stop-color="#98152b"/><stop offset="0.897" stop-color="#710f28"/><stop offset="1.000" stop-color="#5c0e22"/></linearGradient><linearGradient id="g139" x1="0" y1="0" x2="0" y2="1"><stop offset="0.000" stop-color="#c96c50"/><stop offset="0.276" stop-color="#c7674c"/><stop offset="0.375" stop-color="#c1563b"/><stop offset="0.478" stop-color="#b83d2a"/><stop offset="0.526" stop-color="#ac2627"/><stop offset="0.603" stop-color="#8f122c"/><stop offset="0.659" stop-color="#7e0f2b"/><stop offset="0.810" stop-color="#640e24"/><stop offset="1.000" stop-color="#550d1e"/></linearGradient><linearGradient id="g140" x1="0" y1="0" x2="0" y2="1"><stop offset="0.000" stop-color="#cf7f65"/><stop offset="0.164" stop-color="#ce7d62"/><stop offset="0.435" stop-color="#bd4a32"/><stop offset="0.483" stop-color="#b83d2a"/><stop offset="0.530" stop-color="#ac2627"/><stop offset="0.603" stop-color="#8f122c"/><stop offset="0.655" stop-color="#7f0f2b"/><stop offset="0.815" stop-color="#620e23"/><stop offset="1.000" stop-color="#520d1d"/></linearGradient><linearGradient id="g141" x1="0" y1="0" x2="0" y2="1"><stop offset="0.000" stop-color="#d4927a"/><stop offset="0.164" stop-color="#d1876e"/><stop offset="0.353" stop-color="#c35c41"/><stop offset="0.478" stop-color="#ba402b"/><stop offset="0.526" stop-color="#ae2826"/><stop offset="0.599" stop-color="#91132b"/><stop offset="0.647" stop-color="#81102b"/><stop offset="0.819" stop-color="#610e23"/><stop offset="1.000" stop-color="#510c1c"/></linearGradient><linearGradient id="g142" x1="0" y1="0" x2="0" y2="1"><stop offset="0.000" stop-color="#daa490"/><stop offset="0.168" stop-color="#d38e76"/><stop offset="0.332" stop-color="#c56246"/><stop offset="0.478" stop-color="#ba412c"/><stop offset="0.526" stop-color="#ae2926"/><stop offset="0.599" stop-color="#92132b"/><stop offset="0.647" stop-color="#81102b"/><stop offset="0.819" stop-color="#610e23"/><stop offset="1.000" stop-color="#510c1c"/></linearGradient><linearGradient id="g143" x1="0" y1="0" x2="0" y2="1"><stop offset="0.000" stop-color="#deb2a1"/><stop offset="0.164" stop-color="#d69983"/><stop offset="0.323" stop-color="#c7684c"/><stop offset="0.483" stop-color="#b93f2a"/><stop offset="0.530" stop-color="#ac2727"/><stop offset="0.603" stop-color="#90122c"/><stop offset="0.651" stop-color="#800f2b"/><stop offset="0.819" stop-color="#610e23"/><stop offset="1.000" stop-color="#510c1c"/></linearGradient><linearGradient id="g144" x1="0" y1="0" x2="0" y2="1"><stop offset="0.000" stop-color="#e4c2b6"/><stop offset="0.168" stop-color="#d9a08b"/><stop offset="0.328" stop-color="#c96b4f"/><stop offset="0.483" stop-color="#b93f2a"/><stop offset="0.530" stop-color="#ac2727"/><stop offset="0.603" stop-color="#90122c"/><stop offset="0.651" stop-color="#800f2b"/><stop offset="0.819" stop-color="#610e23"/><stop offset="1.000" stop-color="#510c1c"/></linearGradient><linearGradient id="g145" x1="0" y1="0" x2="0" y2="1"><stop offset="0.000" stop-color="#e8cfc6"/><stop offset="0.164" stop-color="#ddad9b"/><stop offset="0.336" stop-color="#c96c50"/><stop offset="0.483" stop-color="#b93f2a"/><stop offset="0.530" stop-color="#ac2727"/><stop offset="0.603" stop-color="#90122c"/><stop offset="0.651" stop-color="#800f2b"/><stop offset="0.819" stop-color="#610e23"/><stop offset="1.000" stop-color="#510c1c"/></linearGradient><linearGradient id="g146" x1="0" y1="0" x2="0" y2="1"><stop offset="0.000" stop-color="#ebd9d3"/><stop offset="0.164" stop-color="#e2beb1"/><stop offset="0.254" stop-color="#d9a08b"/><stop offset="0.341" stop-color="#ca6f53"/><stop offset="0.487" stop-color="#b83c29"/><stop offset="0.534" stop-color="#ab2527"/><stop offset="0.603" stop-color="#90122c"/><stop offset="0.651" stop-color="#800f2b"/><stop offset="0.819" stop-color="#610e23"/><stop offset="1.000" stop-color="#510c1c"/></linearGradient><linearGradient id="g147" x1="0" y1="0" x2="0" y2="1"><stop offset="0.000" stop-color="#eee1dd"/><stop offset="0.164" stop-color="#e7cbc1"/><stop offset="0.254" stop-color="#ddad9b"/><stop offset="0.341" stop-color="#cb7357"/><stop offset="0.487" stop-color="#b83d2a"/><stop offset="0.530" stop-color="#ad2726"/><stop offset="0.603" stop-color="#90122c"/><stop offset="0.651" stop-color="#810f2b"/><stop offset="0.819" stop-color="#610e23"/><stop offset="1.000" stop-color="#510c1c"/></linearGradient><linearGradient id="g148" x1="0" y1="0" x2="0" y2="1"><stop offset="0.000" stop-color="#f0e9e8"/><stop offset="0.164" stop-color="#ebd7d1"/><stop offset="0.250" stop-color="#e3c1b4"/><stop offset="0.341" stop-color="#ce7b61"/><stop offset="0.466" stop-color="#bd4931"/><stop offset="0.526" stop-color="#af2b26"/><stop offset="0.608" stop-color="#90122c"/><stop offset="0.659" stop-color="#82102b"/><stop offset="0.819" stop-color="#630e24"/><stop offset="1.000" stop-color="#520d1d"/></linearGradient><linearGradient id="g149" x1="0" y1="0" x2="0" y2="1"><stop offset="0.000" stop-color="#c0cdd2"/><stop offset="0.129" stop-color="#f1eceb"/><stop offset="0.254" stop-color="#e7cdc3"/><stop offset="0.358" stop-color="#d5967f"/><stop offset="0.466" stop-color="#c56146"/><stop offset="0.552" stop-color="#b83d2a"/><stop offset="0.603" stop-color="#ac2627"/><stop offset="0.685" stop-color="#93132b"/><stop offset="0.802" stop-color="#6b0f26"/><stop offset="1.000" stop-color="#540d1e"/></linearGradient><linearGradient id="g150" x1="0" y1="0" x2="0" y2="1"><stop offset="0.000" stop-color="#202660"/><stop offset="0.185" stop-color="#232a6c"/><stop offset="0.328" stop-color="#27307e"/><stop offset="0.358" stop-color="#27307e"/><stop offset="0.362" stop-color="#293489"/><stop offset="0.366" stop-color="#293fa5"/><stop offset="0.371" stop-color="#1f4ebb"/><stop offset="0.375" stop-color="#135fc1"/><stop offset="0.379" stop-color="#136dbd"/><stop offset="0.397" stop-color="#67a3be"/><stop offset="0.405" stop-color="#8fb6c4"/><stop offset="0.418" stop-color="#c8d2d5"/><stop offset="0.422" stop-color="#dddfe0"/><stop offset="0.427" stop-color="#ebe8e8"/><stop offset="0.431" stop-color="#f0eceb"/><stop offset="0.466" stop-color="#e4c2b5"/><stop offset="0.474" stop-color="#dfb5a6"/><stop offset="0.629" stop-color="#c66449"/><stop offset="0.664" stop-color="#b93d2a"/><stop offset="0.685" stop-color="#a92327"/><stop offset="0.737" stop-color="#8f122c"/><stop offset="0.784" stop-color="#7b0f2a"/><stop offset="0.901" stop-color="#630e24"/><stop offset="1.000" stop-color="#590e21"/></linearGradient><linearGradient id="g151" x1="0" y1="0" x2="0" y2="1"><stop offset="0.000" stop-color="#f1eceb"/><stop offset="0.319" stop-color="#f0e9e8"/><stop offset="0.418" stop-color="#ebd9d3"/><stop offset="0.440" stop-color="#ebdad4"/><stop offset="0.629" stop-color="#c8694d"/><stop offset="0.668" stop-color="#b93f2b"/><stop offset="0.685" stop-color="#ae2926"/><stop offset="0.737" stop-color="#91132b"/><stop offset="0.776" stop-color="#7d0f2a"/><stop offset="0.897" stop-color="#630e24"/><stop offset="1.000" stop-color="#590e21"/></linearGradient><linearGradient id="g152" x1="0" y1="0" x2="0" y2="1"><stop offset="0.000" stop-color="#dcac9a"/><stop offset="0.306" stop-color="#deb09e"/><stop offset="0.414" stop-color="#c96d51"/><stop offset="0.483" stop-color="#bd4931"/><stop offset="0.547" stop-color="#b02b26"/><stop offset="0.634" stop-color="#93132b"/><stop offset="0.806" stop-color="#670e25"/><stop offset="1.000" stop-color="#540d1e"/></linearGradient><linearGradient id="g153" x1="0" y1="0" x2="0" y2="1"><stop offset="0.000" stop-color="#d4927a"/><stop offset="0.203" stop-color="#cf8167"/><stop offset="0.315" stop-color="#ce7b60"/><stop offset="0.470" stop-color="#bd4931"/><stop offset="0.534" stop-color="#b02b26"/><stop offset="0.625" stop-color="#91122c"/><stop offset="0.806" stop-color="#620e23"/><stop offset="1.000" stop-color="#510d1d"/></linearGradient><linearGradient id="g154" x1="0" y1="0" x2="0" y2="1"><stop offset="0.000" stop-color="#cc775c"/><stop offset="0.233" stop-color="#c56044"/><stop offset="0.470" stop-color="#b63628"/><stop offset="0.565" stop-color="#9d182a"/><stop offset="0.655" stop-color="#7f0f2b"/><stop offset="0.810" stop-color="#5e0e22"/><stop offset="1.000" stop-color="#4f0c1c"/></linearGradient><linearGradient id="g155" x1="0" y1="0" x2="0" y2="1"><stop offset="0.000" stop-color="#b02b26"/><stop offset="0.216" stop-color="#91122c"/><stop offset="0.353" stop-color="#7d0f2b"/><stop offset="0.707" stop-color="#620e23"/><stop offset="1.000" stop-color="#4b0c1a"/></linearGradient><linearGradient id="g156" x1="0" y1="0" x2="0" y2="1"><stop offset="0.000" stop-color="#8d112c"/><stop offset="0.246" stop-color="#690e25"/><stop offset="0.543" stop-color="#510d1d"/><stop offset="0.634" stop-color="#500c1c"/><stop offset="0.724" stop-color="#5d0e22"/><stop offset="1.000" stop-color="#490b19"/></linearGradient><linearGradient id="g157" x1="0" y1="0" x2="0" y2="1"><stop offset="0.000" stop-color="#9b172a"/><stop offset="0.216" stop-color="#770f29"/><stop offset="0.466" stop-color="#580e20"/><stop offset="0.634" stop-color="#530d1d"/><stop offset="0.724" stop-color="#5f0e22"/><stop offset="1.000" stop-color="#4b0c1a"/></linearGradient><linearGradient id="g158" x1="0" y1="0" x2="0" y2="1"><stop offset="0.000" stop-color="#c05136"/><stop offset="0.224" stop-color="#bf4e35"/><stop offset="0.328" stop-color="#b93d2a"/><stop offset="0.405" stop-color="#ac2727"/><stop offset="0.530" stop-color="#8c112c"/><stop offset="0.642" stop-color="#6a0f26"/><stop offset="1.000" stop-color="#4f0c1b"/></linearGradient><linearGradient id="g159" x1="0" y1="0" x2="0" y2="1"><stop offset="0.000" stop-color="#cad3d6"/><stop offset="0.078" stop-color="#f1ebe9"/><stop offset="0.194" stop-color="#cd7a5f"/><stop offset="0.207" stop-color="#c96d51"/><stop offset="0.332" stop-color="#bc462f"/><stop offset="0.427" stop-color="#af2a26"/><stop offset="0.543" stop-color="#91122c"/><stop offset="0.642" stop-color="#740f28"/><stop offset="0.909" stop-color="#580e20"/><stop offset="1.000" stop-color="#510c1c"/></linearGradient><linearGradient id="g160" x1="0" y1="0" x2="0" y2="1"><stop offset="0.000" stop-color="#79abbf"/><stop offset="0.082" stop-color="#a0bdc8"/><stop offset="0.147" stop-color="#dbdedf"/><stop offset="0.168" stop-color="#f1ebe9"/><stop offset="0.216" stop-color="#dfb4a4"/><stop offset="0.259" stop-color="#cb7155"/><stop offset="0.353" stop-color="#bd4a32"/><stop offset="0.440" stop-color="#af2b26"/><stop offset="0.552" stop-color="#90122c"/><stop offset="0.642" stop-color="#760f29"/><stop offset="0.892" stop-color="#5b0e21"/><stop offset="1.000" stop-color="#510c1c"/></linearGradient><linearGradient id="g161" x1="0" y1="0" x2="0" y2="1"><stop offset="0.000" stop-color="#72a8bf"/><stop offset="0.099" stop-color="#94b8c5"/><stop offset="0.159" stop-color="#d6dadc"/><stop offset="0.181" stop-color="#efebea"/><stop offset="0.198" stop-color="#ecdcd6"/><stop offset="0.237" stop-color="#ddaf9e"/><stop offset="0.280" stop-color="#cb7256"/><stop offset="0.366" stop-color="#be4c33"/><stop offset="0.444" stop-color="#b02b26"/><stop offset="0.547" stop-color="#93132b"/><stop offset="0.642" stop-color="#770f29"/><stop offset="0.884" stop-color="#5c0e22"/><stop offset="1.000" stop-color="#510c1c"/></linearGradient><linearGradient id="g162" x1="0" y1="0" x2="0" y2="1"><stop offset="0.000" stop-color="#70a7be"/><stop offset="0.121" stop-color="#87b2c2"/><stop offset="0.172" stop-color="#b9cad0"/><stop offset="0.203" stop-color="#f0ebea"/><stop offset="0.254" stop-color="#dfb5a5"/><stop offset="0.302" stop-color="#cb7357"/><stop offset="0.371" stop-color="#bf4e34"/><stop offset="0.444" stop-color="#b12c25"/><stop offset="0.534" stop-color="#97142b"/><stop offset="0.642" stop-color="#770f29"/><stop offset="0.884" stop-color="#5c0e22"/><stop offset="1.000" stop-color="#510c1c"/></linearGradient><linearGradient id="g163" x1="0" y1="0" x2="0" y2="1"><stop offset="0.000" stop-color="#6fa7be"/><stop offset="0.142" stop-color="#82b0c1"/><stop offset="0.203" stop-color="#bcccd1"/><stop offset="0.228" stop-color="#efebea"/><stop offset="0.272" stop-color="#e1b9aa"/><stop offset="0.310" stop-color="#cd7a5f"/><stop offset="0.323" stop-color="#ca6e53"/><stop offset="0.379" stop-color="#bf4e34"/><stop offset="0.448" stop-color="#b02c25"/><stop offset="0.534" stop-color="#97142b"/><stop offset="0.642" stop-color="#770f29"/><stop offset="0.884" stop-color="#5c0e22"/><stop offset="1.000" stop-color="#510c1c"/></linearGradient><linearGradient id="g164" x1="0" y1="0" x2="0" y2="1"><stop offset="0.000" stop-color="#6fa7be"/><stop offset="0.159" stop-color="#7eaec0"/><stop offset="0.224" stop-color="#bdccd1"/><stop offset="0.250" stop-color="#f0ebea"/><stop offset="0.293" stop-color="#e3c0b3"/><stop offset="0.332" stop-color="#cc765b"/><stop offset="0.341" stop-color="#c96d51"/><stop offset="0.392" stop-color="#be4d34"/><stop offset="0.453" stop-color="#b12d25"/><stop offset="0.539" stop-color="#97142b"/><stop offset="0.638" stop-color="#770f2a"/><stop offset="0.905" stop-color="#5b0e21"/><stop offset="1.000" stop-color="#520d1d"/></linearGradient><linearGradient id="g165" x1="0" y1="0" x2="0" y2="1"><stop offset="0.000" stop-color="#1b75bb"/><stop offset="0.185" stop-color="#1e77ba"/><stop offset="0.228" stop-color="#5d9ebd"/><stop offset="0.259" stop-color="#a2bec8"/><stop offset="0.276" stop-color="#dbdedf"/><stop offset="0.280" stop-color="#e9e7e7"/><stop offset="0.284" stop-color="#f0e7e5"/><stop offset="0.345" stop-color="#d28a71"/><stop offset="0.358" stop-color="#cc755a"/><stop offset="0.405" stop-color="#bf4f35"/><stop offset="0.466" stop-color="#b02c25"/><stop offset="0.560" stop-color="#92132b"/><stop offset="0.638" stop-color="#770f2a"/><stop offset="1.000" stop-color="#540d1e"/></linearGradient><linearGradient id="g166" x1="0" y1="0" x2="0" y2="1"><stop offset="0.000" stop-color="#1a54c0"/><stop offset="0.336" stop-color="#1d50bd"/><stop offset="0.341" stop-color="#155ac2"/><stop offset="0.349" stop-color="#106abd"/><stop offset="0.379" stop-color="#589cbc"/><stop offset="0.401" stop-color="#a9c2cb"/><stop offset="0.418" stop-color="#e9e7e7"/><stop offset="0.422" stop-color="#f1eceb"/><stop offset="0.448" stop-color="#f1eceb"/><stop offset="0.487" stop-color="#e2bcae"/><stop offset="0.629" stop-color="#c96d52"/><stop offset="0.668" stop-color="#bb442e"/><stop offset="0.690" stop-color="#af2a26"/><stop offset="0.716" stop-color="#97142b"/><stop offset="0.789" stop-color="#6e0f27"/><stop offset="1.000" stop-color="#560d1f"/></linearGradient><linearGradient id="g167" x1="0" y1="0" x2="0" y2="1"><stop offset="0.000" stop-color="#ecdbd5"/><stop offset="0.164" stop-color="#e5c6ba"/><stop offset="0.306" stop-color="#d89f8a"/><stop offset="0.366" stop-color="#c7664a"/><stop offset="0.440" stop-color="#ba402c"/><stop offset="0.483" stop-color="#ae2926"/><stop offset="0.569" stop-color="#90122c"/><stop offset="0.638" stop-color="#770f2a"/><stop offset="1.000" stop-color="#540d1e"/></linearGradient><linearGradient id="g168" x1="0" y1="0" x2="0" y2="1"><stop offset="0.000" stop-color="#e8cfc5"/><stop offset="0.164" stop-color="#e1b9aa"/><stop offset="0.310" stop-color="#d38e75"/><stop offset="0.371" stop-color="#c66347"/><stop offset="0.448" stop-color="#b83b29"/><stop offset="0.491" stop-color="#ac2627"/><stop offset="0.569" stop-color="#90122c"/><stop offset="0.638" stop-color="#770f2a"/><stop offset="0.905" stop-color="#5b0e21"/><stop offset="1.000" stop-color="#520d1d"/></linearGradient><linearGradient id="g169" x1="0" y1="0" x2="0" y2="1"><stop offset="0.000" stop-color="#e2beb0"/><stop offset="0.190" stop-color="#d79c86"/><stop offset="0.319" stop-color="#cd7a5f"/><stop offset="0.422" stop-color="#bc4830"/><stop offset="0.478" stop-color="#af2a26"/><stop offset="0.565" stop-color="#92132b"/><stop offset="0.638" stop-color="#770f2a"/><stop offset="0.884" stop-color="#5c0e22"/><stop offset="1.000" stop-color="#510c1c"/></linearGradient><linearGradient id="g170" x1="0" y1="0" x2="0" y2="1"><stop offset="0.000" stop-color="#dca997"/><stop offset="0.323" stop-color="#c96d51"/><stop offset="0.435" stop-color="#b93d2a"/><stop offset="0.487" stop-color="#ab2527"/><stop offset="0.569" stop-color="#8f122c"/><stop offset="0.638" stop-color="#770f29"/><stop offset="0.879" stop-color="#5c0e22"/><stop offset="1.000" stop-color="#510c1c"/></linearGradient><linearGradient id="g171" x1="0" y1="0" x2="0" y2="1"><stop offset="0.000" stop-color="#cb7357"/><stop offset="0.254" stop-color="#c45e43"/><stop offset="0.336" stop-color="#bf5036"/><stop offset="0.453" stop-color="#b02c25"/><stop offset="0.560" stop-color="#90122c"/><stop offset="0.642" stop-color="#740f28"/><stop offset="0.879" stop-color="#5a0e21"/><stop offset="1.000" stop-color="#4f0c1b"/></linearGradient><linearGradient id="g172" x1="0" y1="0" x2="0" y2="1"><stop offset="0.000" stop-color="#b53427"/><stop offset="0.185" stop-color="#a01a2a"/><stop offset="0.349" stop-color="#7a0f2a"/><stop offset="0.487" stop-color="#590e20"/><stop offset="0.634" stop-color="#530d1e"/><stop offset="0.720" stop-color="#610e23"/><stop offset="1.000" stop-color="#4b0c1a"/></linearGradient><linearGradient id="g173" x1="0" y1="0" x2="0" y2="1"><stop offset="0.000" stop-color="#b73928"/><stop offset="0.134" stop-color="#aa2327"/><stop offset="0.280" stop-color="#8c112c"/><stop offset="0.483" stop-color="#5a0e21"/><stop offset="0.638" stop-color="#530d1e"/><stop offset="0.724" stop-color="#5d0e22"/><stop offset="1.000" stop-color="#490b19"/></linearGradient><linearGradient id="g174" x1="0" y1="0" x2="0" y2="1"><stop offset="0.000" stop-color="#d5957e"/><stop offset="0.293" stop-color="#c8684c"/><stop offset="0.336" stop-color="#c2573c"/><stop offset="0.409" stop-color="#b22f25"/><stop offset="0.487" stop-color="#94132b"/><stop offset="0.608" stop-color="#5d0e22"/><stop offset="0.634" stop-color="#590e20"/><stop offset="0.728" stop-color="#610e23"/><stop offset="1.000" stop-color="#4c0c1a"/></linearGradient><linearGradient id="g175" x1="0" y1="0" x2="0" y2="1"><stop offset="0.000" stop-color="#e1baab"/><stop offset="0.310" stop-color="#d9a28d"/><stop offset="0.448" stop-color="#bf4e34"/><stop offset="0.496" stop-color="#b43226"/><stop offset="0.582" stop-color="#97142b"/><stop offset="0.647" stop-color="#800f2b"/><stop offset="0.819" stop-color="#600e23"/><stop offset="1.000" stop-color="#510c1c"/></linearGradient><linearGradient id="g176" x1="0" y1="0" x2="0" y2="1"><stop offset="0.000" stop-color="#cbd3d6"/><stop offset="0.159" stop-color="#f1ebea"/><stop offset="0.306" stop-color="#f1eceb"/><stop offset="0.358" stop-color="#dcac9a"/><stop offset="0.470" stop-color="#c56045"/><stop offset="0.569" stop-color="#bb432e"/><stop offset="0.616" stop-color="#b63728"/><stop offset="0.668" stop-color="#a21c29"/><stop offset="0.724" stop-color="#85102c"/><stop offset="0.802" stop-color="#670e25"/><stop offset="1.000" stop-color="#550d1e"/></linearGradient><linearGradient id="g177" x1="0" y1="0" x2="0" y2="1"><stop offset="0.000" stop-color="#222867"/><stop offset="0.185" stop-color="#27307e"/><stop offset="0.267" stop-color="#2a3790"/><stop offset="0.289" stop-color="#2646b4"/><stop offset="0.310" stop-color="#1758c3"/><stop offset="0.345" stop-color="#1162c0"/><stop offset="0.349" stop-color="#0d68be"/><stop offset="0.362" stop-color="#2c81ba"/><stop offset="0.384" stop-color="#6aa4be"/><stop offset="0.405" stop-color="#9dbcc7"/><stop offset="0.440" stop-color="#daddde"/><stop offset="0.457" stop-color="#f1ebea"/><stop offset="0.461" stop-color="#efe7e4"/><stop offset="0.487" stop-color="#f1eceb"/><stop offset="0.530" stop-color="#dba794"/><stop offset="0.591" stop-color="#c45d41"/><stop offset="0.621" stop-color="#b73a29"/><stop offset="0.655" stop-color="#aa2427"/><stop offset="0.711" stop-color="#8e122c"/><stop offset="0.802" stop-color="#680e25"/><stop offset="1.000" stop-color="#570d1f"/></linearGradient><linearGradient id="g178" x1="0" y1="0" x2="0" y2="1"><stop offset="0.000" stop-color="#1972bb"/><stop offset="0.194" stop-color="#156fbc"/><stop offset="0.280" stop-color="#0f65bf"/><stop offset="0.328" stop-color="#1161c0"/><stop offset="0.345" stop-color="#1062c0"/><stop offset="0.353" stop-color="#0d68be"/><stop offset="0.371" stop-color="#418ebb"/><stop offset="0.397" stop-color="#94b8c5"/><stop offset="0.409" stop-color="#ced5d8"/><stop offset="0.414" stop-color="#e2e2e3"/><stop offset="0.418" stop-color="#f0e8e6"/><stop offset="0.431" stop-color="#ede9e9"/><stop offset="0.444" stop-color="#eae8e7"/><stop offset="0.448" stop-color="#f1ebea"/><stop offset="0.470" stop-color="#e5c7bb"/><stop offset="0.483" stop-color="#ddad9b"/><stop offset="0.582" stop-color="#c2573c"/><stop offset="0.621" stop-color="#b43226"/><stop offset="0.685" stop-color="#9a162b"/><stop offset="0.776" stop-color="#710f28"/><stop offset="0.823" stop-color="#660e24"/><stop offset="1.000" stop-color="#560d1f"/></linearGradient><linearGradient id="g179" x1="0" y1="0" x2="0" y2="1"><stop offset="0.000" stop-color="#3083ba"/><stop offset="0.310" stop-color="#3486ba"/><stop offset="0.328" stop-color="#3586ba"/><stop offset="0.336" stop-color="#3083ba"/><stop offset="0.349" stop-color="#6ca5be"/><stop offset="0.362" stop-color="#a3bfc8"/><stop offset="0.371" stop-color="#d3d8da"/><stop offset="0.375" stop-color="#e5e4e4"/><stop offset="0.379" stop-color="#f0e9e7"/><stop offset="0.397" stop-color="#efe6e4"/><stop offset="0.401" stop-color="#f0e9e7"/><stop offset="0.418" stop-color="#e8d0c7"/><stop offset="0.435" stop-color="#ddaf9d"/><stop offset="0.448" stop-color="#d8a08b"/><stop offset="0.569" stop-color="#bf5036"/><stop offset="0.612" stop-color="#b22e25"/><stop offset="0.672" stop-color="#9a162b"/><stop offset="0.767" stop-color="#740f29"/><stop offset="0.836" stop-color="#630e24"/><stop offset="1.000" stop-color="#550d1e"/></linearGradient><linearGradient id="g180" x1="0" y1="0" x2="0" y2="1"><stop offset="0.000" stop-color="#3285ba"/><stop offset="0.306" stop-color="#3385ba"/><stop offset="0.323" stop-color="#4d95bb"/><stop offset="0.328" stop-color="#5d9ebd"/><stop offset="0.345" stop-color="#b2c6cd"/><stop offset="0.349" stop-color="#c1ced2"/><stop offset="0.358" stop-color="#f1ebea"/><stop offset="0.375" stop-color="#f0ebea"/><stop offset="0.418" stop-color="#deb2a1"/><stop offset="0.526" stop-color="#c8694d"/><stop offset="0.586" stop-color="#b93f2b"/><stop offset="0.616" stop-color="#ad2826"/><stop offset="0.681" stop-color="#93132b"/><stop offset="0.797" stop-color="#6a0f26"/><stop offset="0.866" stop-color="#5f0e22"/><stop offset="1.000" stop-color="#540d1e"/></linearGradient><linearGradient id="g181" x1="0" y1="0" x2="0" y2="1"><stop offset="0.000" stop-color="#1c51be"/><stop offset="0.336" stop-color="#1d50bd"/><stop offset="0.341" stop-color="#2a7fba"/><stop offset="0.345" stop-color="#64a2bd"/><stop offset="0.349" stop-color="#a9c2ca"/><stop offset="0.353" stop-color="#d1d7d9"/><stop offset="0.358" stop-color="#f0eae8"/><stop offset="0.371" stop-color="#f0eae8"/><stop offset="0.409" stop-color="#deb09f"/><stop offset="0.539" stop-color="#c35a3f"/><stop offset="0.595" stop-color="#b33126"/><stop offset="0.638" stop-color="#a11b29"/><stop offset="0.711" stop-color="#82102b"/><stop offset="0.836" stop-color="#620e23"/><stop offset="1.000" stop-color="#550d1e"/></linearGradient><linearGradient id="g182" x1="0" y1="0" x2="0" y2="1"><stop offset="0.000" stop-color="#c6d0d4"/><stop offset="0.237" stop-color="#d4d9db"/><stop offset="0.293" stop-color="#e9e7e7"/><stop offset="0.310" stop-color="#f1ebe9"/><stop offset="0.323" stop-color="#efe6e4"/><stop offset="0.353" stop-color="#e5c6ba"/><stop offset="0.358" stop-color="#e5c5b9"/><stop offset="0.371" stop-color="#dfb5a5"/><stop offset="0.444" stop-color="#cd7b60"/><stop offset="0.478" stop-color="#c45f44"/><stop offset="0.552" stop-color="#b73928"/><stop offset="0.595" stop-color="#a92327"/><stop offset="0.655" stop-color="#92132b"/><stop offset="0.750" stop-color="#740f29"/><stop offset="0.841" stop-color="#620e23"/><stop offset="1.000" stop-color="#560d1f"/></linearGradient><linearGradient id="g183" x1="0" y1="0" x2="0" y2="1"><stop offset="0.000" stop-color="#93b7c5"/><stop offset="0.159" stop-color="#a9c2ca"/><stop offset="0.250" stop-color="#cfd5d8"/><stop offset="0.289" stop-color="#f0ebea"/><stop offset="0.353" stop-color="#deb1a0"/><stop offset="0.405" stop-color="#d1866d"/><stop offset="0.474" stop-color="#c05237"/><stop offset="0.556" stop-color="#b12c25"/><stop offset="0.642" stop-color="#94132b"/><stop offset="0.746" stop-color="#740f28"/><stop offset="0.845" stop-color="#610e23"/><stop offset="1.000" stop-color="#570d1f"/></linearGradient><linearGradient id="g184" x1="0" y1="0" x2="0" y2="1"><stop offset="0.000" stop-color="#8eb5c4"/><stop offset="0.159" stop-color="#a6c0ca"/><stop offset="0.241" stop-color="#ccd4d7"/><stop offset="0.280" stop-color="#f1ebea"/><stop offset="0.349" stop-color="#d9a38f"/><stop offset="0.375" stop-color="#d28c73"/><stop offset="0.466" stop-color="#be4d34"/><stop offset="0.543" stop-color="#b12c25"/><stop offset="0.647" stop-color="#91132b"/><stop offset="0.746" stop-color="#730f28"/><stop offset="0.845" stop-color="#620e23"/><stop offset="1.000" stop-color="#570e20"/></linearGradient><linearGradient id="g185" x1="0" y1="0" x2="0" y2="1"><stop offset="0.000" stop-color="#8cb4c3"/><stop offset="0.155" stop-color="#a6c0c9"/><stop offset="0.224" stop-color="#c9d2d5"/><stop offset="0.263" stop-color="#f1eceb"/><stop offset="0.310" stop-color="#dfb5a5"/><stop offset="0.371" stop-color="#ce7d62"/><stop offset="0.461" stop-color="#bc462f"/><stop offset="0.534" stop-color="#af2b26"/><stop offset="0.655" stop-color="#8e122c"/><stop offset="0.750" stop-color="#720f28"/><stop offset="0.845" stop-color="#620e23"/><stop offset="1.000" stop-color="#570e20"/></linearGradient><linearGradient id="g186" x1="0" y1="0" x2="0" y2="1"><stop offset="0.000" stop-color="#8ab3c3"/><stop offset="0.147" stop-color="#a8c1ca"/><stop offset="0.211" stop-color="#ccd3d6"/><stop offset="0.246" stop-color="#f0ebeb"/><stop offset="0.293" stop-color="#dfb5a5"/><stop offset="0.371" stop-color="#ca7054"/><stop offset="0.457" stop-color="#ba422d"/><stop offset="0.522" stop-color="#af2a26"/><stop offset="0.651" stop-color="#90122c"/><stop offset="0.746" stop-color="#730f28"/><stop offset="0.845" stop-color="#620e23"/><stop offset="1.000" stop-color="#570e20"/></linearGradient><linearGradient id="g187" x1="0" y1="0" x2="0" y2="1"><stop offset="0.000" stop-color="#85b1c2"/><stop offset="0.125" stop-color="#a5c0c9"/><stop offset="0.190" stop-color="#cbd3d6"/><stop offset="0.224" stop-color="#f1ebea"/><stop offset="0.267" stop-color="#e1b9aa"/><stop offset="0.366" stop-color="#c7654a"/><stop offset="0.448" stop-color="#b93f2a"/><stop offset="0.487" stop-color="#b22e25"/><stop offset="0.642" stop-color="#93132b"/><stop offset="0.746" stop-color="#730f28"/><stop offset="0.845" stop-color="#620e23"/><stop offset="1.000" stop-color="#570e20"/></linearGradient><linearGradient id="g188" x1="0" y1="0" x2="0" y2="1"><stop offset="0.000" stop-color="#7eaec0"/><stop offset="0.108" stop-color="#a1bdc8"/><stop offset="0.164" stop-color="#cad2d6"/><stop offset="0.194" stop-color="#efebea"/><stop offset="0.241" stop-color="#e1b9ab"/><stop offset="0.349" stop-color="#c8694d"/><stop offset="0.384" stop-color="#c1553a"/><stop offset="0.470" stop-color="#b22f25"/><stop offset="0.638" stop-color="#95142b"/><stop offset="0.746" stop-color="#740f29"/><stop offset="0.845" stop-color="#620e23"/><stop offset="1.000" stop-color="#570e20"/></linearGradient><linearGradient id="g189" x1="0" y1="0" x2="0" y2="1"><stop offset="0.000" stop-color="#aec4cc"/><stop offset="0.099" stop-color="#b3c7ce"/><stop offset="0.142" stop-color="#d7dbdd"/><stop offset="0.168" stop-color="#f1ebea"/><stop offset="0.220" stop-color="#e2bdb0"/><stop offset="0.297" stop-color="#cf8268"/><stop offset="0.379" stop-color="#c15439"/><stop offset="0.470" stop-color="#b22e25"/><stop offset="0.642" stop-color="#94132b"/><stop offset="0.763" stop-color="#740f29"/><stop offset="0.849" stop-color="#650e24"/><stop offset="1.000" stop-color="#590e20"/></linearGradient><linearGradient id="g190" x1="0" y1="0" x2="0" y2="1"><stop offset="0.000" stop-color="#136dbd"/><stop offset="0.159" stop-color="#2279ba"/><stop offset="0.293" stop-color="#5b9dbc"/><stop offset="0.358" stop-color="#a6c0c9"/><stop offset="0.392" stop-color="#e9e7e7"/><stop offset="0.397" stop-color="#f1eceb"/><stop offset="0.422" stop-color="#f0eae8"/><stop offset="0.448" stop-color="#e9d1c9"/><stop offset="0.474" stop-color="#deb09f"/><stop offset="0.569" stop-color="#cd7a5f"/><stop offset="0.634" stop-color="#bd4931"/><stop offset="0.672" stop-color="#b02c26"/><stop offset="0.720" stop-color="#97142b"/><stop offset="0.802" stop-color="#710f28"/><stop offset="1.000" stop-color="#5b0e21"/></linearGradient><linearGradient id="g191" x1="0" y1="0" x2="0" y2="1"><stop offset="0.000" stop-color="#212765"/><stop offset="0.259" stop-color="#23296a"/><stop offset="0.336" stop-color="#232a6e"/><stop offset="0.362" stop-color="#2a3997"/><stop offset="0.375" stop-color="#2548b5"/><stop offset="0.384" stop-color="#1758c3"/><stop offset="0.397" stop-color="#0f6abe"/><stop offset="0.405" stop-color="#1a73bb"/><stop offset="0.409" stop-color="#287eba"/><stop offset="0.422" stop-color="#72a8bf"/><stop offset="0.431" stop-color="#a7c1ca"/><stop offset="0.435" stop-color="#c8d1d5"/><stop offset="0.440" stop-color="#e9e7e7"/><stop offset="0.444" stop-color="#efe7e4"/><stop offset="0.474" stop-color="#f1ebea"/><stop offset="0.500" stop-color="#e8cfc6"/><stop offset="0.509" stop-color="#e5c5ba"/><stop offset="0.530" stop-color="#dba895"/><stop offset="0.586" stop-color="#cc7559"/><stop offset="0.629" stop-color="#be4c33"/><stop offset="0.672" stop-color="#b12d25"/><stop offset="0.728" stop-color="#96142b"/><stop offset="0.802" stop-color="#750f29"/><stop offset="1.000" stop-color="#5d0e22"/></linearGradient><linearGradient id="g192" x1="0" y1="0" x2="0" y2="1"><stop offset="0.000" stop-color="#293489"/><stop offset="0.349" stop-color="#293489"/><stop offset="0.371" stop-color="#2a3a9a"/><stop offset="0.409" stop-color="#2a3c9e"/><stop offset="0.431" stop-color="#2940a8"/><stop offset="0.435" stop-color="#2943b1"/><stop offset="0.444" stop-color="#1757c3"/><stop offset="0.457" stop-color="#0e69be"/><stop offset="0.461" stop-color="#136dbd"/><stop offset="0.466" stop-color="#1f78ba"/><stop offset="0.478" stop-color="#67a3be"/><stop offset="0.491" stop-color="#aac2cb"/><stop offset="0.500" stop-color="#dddfe0"/><stop offset="0.504" stop-color="#f0e8e5"/><stop offset="0.526" stop-color="#f1ebea"/><stop offset="0.569" stop-color="#ddae9c"/><stop offset="0.603" stop-color="#ca6f53"/><stop offset="0.625" stop-color="#bf5036"/><stop offset="0.672" stop-color="#b22e25"/><stop offset="0.728" stop-color="#97142b"/><stop offset="0.802" stop-color="#790f2a"/><stop offset="0.970" stop-color="#610e23"/><stop offset="1.000" stop-color="#5d0e22"/></linearGradient><linearGradient id="g193" x1="0" y1="0" x2="0" y2="1"><stop offset="0.000" stop-color="#1e77ba"/><stop offset="0.203" stop-color="#1a73bb"/><stop offset="0.388" stop-color="#116bbd"/><stop offset="0.435" stop-color="#106bbd"/><stop offset="0.457" stop-color="#106bbd"/><stop offset="0.466" stop-color="#1871bb"/><stop offset="0.496" stop-color="#136dbd"/><stop offset="0.513" stop-color="#136dbd"/><stop offset="0.517" stop-color="#1b75bb"/><stop offset="0.534" stop-color="#73a9bf"/><stop offset="0.547" stop-color="#b7c9cf"/><stop offset="0.556" stop-color="#e8e6e6"/><stop offset="0.560" stop-color="#f0eae8"/><stop offset="0.578" stop-color="#f1eceb"/><stop offset="0.621" stop-color="#e2bcae"/><stop offset="0.647" stop-color="#dba895"/><stop offset="0.690" stop-color="#d38e75"/><stop offset="0.737" stop-color="#c2593e"/><stop offset="0.759" stop-color="#b53627"/><stop offset="0.780" stop-color="#9e192a"/><stop offset="0.806" stop-color="#7f0f2b"/><stop offset="0.888" stop-color="#680e25"/><stop offset="1.000" stop-color="#5d0e22"/></linearGradient><linearGradient id="g194" x1="0" y1="0" x2="0" y2="1"><stop offset="0.000" stop-color="#e8cfc6"/><stop offset="0.237" stop-color="#e0b6a7"/><stop offset="0.306" stop-color="#deb1a0"/><stop offset="0.332" stop-color="#ca7054"/><stop offset="0.341" stop-color="#c86a4f"/><stop offset="0.500" stop-color="#c56146"/><stop offset="0.625" stop-color="#c05237"/><stop offset="0.685" stop-color="#b12d25"/><stop offset="0.741" stop-color="#92132b"/><stop offset="0.772" stop-color="#810f2b"/><stop offset="0.892" stop-color="#640e24"/><stop offset="1.000" stop-color="#5a0e21"/></linearGradient><linearGradient id="g195" x1="0" y1="0" x2="0" y2="1"><stop offset="0.000" stop-color="#cf7f64"/><stop offset="0.315" stop-color="#c66247"/><stop offset="0.371" stop-color="#be4c33"/><stop offset="0.418" stop-color="#b02c25"/><stop offset="0.478" stop-color="#97142b"/><stop offset="0.642" stop-color="#6b0f26"/><stop offset="1.000" stop-color="#540d1e"/></linearGradient><linearGradient id="g196" x1="0" y1="0" x2="0" y2="1"><stop offset="0.000" stop-color="#cf7f65"/><stop offset="0.315" stop-color="#c66247"/><stop offset="0.388" stop-color="#ba3f2b"/><stop offset="0.427" stop-color="#ad2726"/><stop offset="0.478" stop-color="#97142b"/><stop offset="0.642" stop-color="#6b0f26"/><stop offset="0.888" stop-color="#5a0e21"/><stop offset="1.000" stop-color="#520d1d"/></linearGradient><linearGradient id="g197" x1="0" y1="0" x2="0" y2="1"><stop offset="0.000" stop-color="#d08268"/><stop offset="0.315" stop-color="#c7664b"/><stop offset="0.397" stop-color="#b83b29"/><stop offset="0.431" stop-color="#ab2627"/><stop offset="0.478" stop-color="#97142b"/><stop offset="0.642" stop-color="#6b0f26"/><stop offset="0.879" stop-color="#5a0e21"/><stop offset="1.000" stop-color="#510c1c"/></linearGradient><linearGradient id="g198" x1="0" y1="0" x2="0" y2="1"><stop offset="0.000" stop-color="#d9a18d"/><stop offset="0.310" stop-color="#cc775c"/><stop offset="0.375" stop-color="#bd4b32"/><stop offset="0.422" stop-color="#b02b26"/><stop offset="0.478" stop-color="#97142b"/><stop offset="0.642" stop-color="#6b0f26"/><stop offset="0.879" stop-color="#5a0e21"/><stop offset="1.000" stop-color="#510c1c"/></linearGradient><linearGradient id="g199" x1="0" y1="0" x2="0" y2="1"><stop offset="0.000" stop-color="#daa490"/><stop offset="0.310" stop-color="#cd7b60"/><stop offset="0.375" stop-color="#be4c33"/><stop offset="0.422" stop-color="#b02c26"/><stop offset="0.478" stop-color="#97142b"/><stop offset="0.642" stop-color="#6b0f26"/><stop offset="0.879" stop-color="#5a0e21"/><stop offset="1.000" stop-color="#510c1c"/></linearGradient><linearGradient id="cb" x1="0" y1="0" x2="1" y2="0"><stop offset="0.000" stop-color="#181c43"/><stop offset="0.050" stop-color="#222867"/><stop offset="0.100" stop-color="#2a368e"/><stop offset="0.130" stop-color="#2943b1"/><stop offset="0.160" stop-color="#1757c3"/><stop offset="0.190" stop-color="#0d68be"/><stop offset="0.220" stop-color="#1e77ba"/><stop offset="0.250" stop-color="#3486ba"/><stop offset="0.300" stop-color="#589cbc"/><stop offset="0.350" stop-color="#7eaec0"/><stop offset="0.400" stop-color="#a2bec8"/><stop offset="0.450" stop-color="#cbd3d6"/><stop offset="0.500" stop-color="#f1eceb"/><stop offset="0.550" stop-color="#e8cfc6"/><stop offset="0.600" stop-color="#deb1a0"/><stop offset="0.650" stop-color="#d4927a"/><stop offset="0.700" stop-color="#cb7256"/><stop offset="0.750" stop-color="#c05237"/><stop offset="0.780" stop-color="#b93e2a"/><stop offset="0.800" stop-color="#b22e25"/><stop offset="0.825" stop-color="#a72028"/><stop offset="0.850" stop-color="#99152b"/><stop offset="0.875" stop-color="#89102c"/><stop offset="0.900" stop-color="#790f2a"/><stop offset="0.950" stop-color="#5a0e21"/><stop offset="1.000" stop-color="#3c0912"/></linearGradient><clipPath id="cp"><rect x="96" y="56" width="976" height="473"/></clipPath></defs><rect width="1125" height="596" fill="#fff"/><rect x="96.3" y="31.6" width="975" height="22.8" fill="url(#cb)" stroke="#000" stroke-width="2.7"/><rect x="290.5" y="32" width="1.4" height="5.5" fill="#000"/><rect x="485.7" y="32" width="1.4" height="5.5" fill="#000"/><rect x="680.9" y="32" width="1.4" height="5.5" fill="#000"/><rect x="876.1" y="32" width="1.4" height="5.5" fill="#000"/><g shape-rendering="crispEdges"><rect x="96.00" y="65" width="3.05" height="464" fill="url(#g0)"/><rect x="98.45" y="65" width="5.50" height="464" fill="url(#g1)"/><rect x="103.36" y="65" width="5.50" height="464" fill="url(#g2)"/><rect x="108.26" y="65" width="5.50" height="464" fill="url(#g3)"/><rect x="113.17" y="65" width="5.50" height="464" fill="url(#g4)"/><rect x="118.07" y="65" width="5.50" height="464" fill="url(#g5)"/><rect x="122.97" y="65" width="5.50" height="464" fill="url(#g6)"/><rect x="127.88" y="65" width="5.50" height="464" fill="url(#g7)"/><rect x="132.78" y="65" width="5.50" height="464" fill="url(#g8)"/><rect x="137.69" y="65" width="5.50" height="464" fill="url(#g9)"/><rect x="142.59" y="65" width="5.50" height="464" fill="url(#g10)"/><rect x="147.50" y="65" width="5.50" height="464" fill="url(#g11)"/><rect x="152.40" y="65" width="5.50" height="464" fill="url(#g12)"/><rect x="157.31" y="65" width="5.50" height="464" fill="url(#g13)"/><rect x="162.21" y="65" width="5.50" height="464" fill="url(#g14)"/><rect x="167.12" y="65" width="5.50" height="464" fill="url(#g15)"/><rect x="172.02" y="65" width="5.50" height="464" fill="url(#g16)"/><rect x="176.92" y="65" width="5.50" height="464" fill="url(#g17)"/><rect x="181.83" y="65" width="5.50" height="464" fill="url(#g18)"/><rect x="186.73" y="65" width="5.50" height="464" fill="url(#g19)"/><rect x="191.64" y="65" width="5.50" height="464" fill="url(#g20)"/><rect x="196.54" y="65" width="5.50" height="464" fill="url(#g21)"/><rect x="201.45" y="65" width="5.50" height="464" fill="url(#g22)"/><rect x="206.35" y="65" width="5.50" height="464" fill="url(#g23)"/><rect x="211.26" y="65" width="5.50" height="464" fill="url(#g24)"/><rect x="216.16" y="65" width="5.50" height="464" fill="url(#g25)"/><rect x="221.07" y="65" width="5.50" height="464" fill="url(#g26)"/><rect x="225.97" y="65" width="5.50" height="464" fill="url(#g27)"/><rect x="230.87" y="65" width="5.50" height="464" fill="url(#g28)"/><rect x="235.78" y="65" width="5.50" height="464" fill="url(#g29)"/><rect x="240.68" y="65" width="5.50" height="464" fill="url(#g30)"/><rect x="245.59" y="65" width="5.50" height="464" fill="url(#g31)"/><rect x="250.49" y="65" width="5.50" height="464" fill="url(#g32)"/><rect x="255.40" y="65" width="5.50" height="464" fill="url(#g33)"/><rect x="260.30" y="65" width="5.50" height="464" fill="url(#g34)"/><rect x="265.21" y="65" width="5.50" height="464" fill="url(#g35)"/><rect x="270.11" y="65" width="5.50" height="464" fill="url(#g36)"/><rect x="275.02" y="65" width="5.50" height="464" fill="url(#g37)"/><rect x="279.92" y="65" width="5.50" height="464" fill="url(#g38)"/><rect x="284.82" y="65" width="5.50" height="464" fill="url(#g39)"/><rect x="289.73" y="65" width="5.50" height="464" fill="url(#g40)"/><rect x="294.63" y="65" width="5.50" height="464" fill="url(#g41)"/><rect x="299.54" y="65" width="5.50" height="464" fill="url(#g42)"/><rect x="304.44" y="65" width="5.50" height="464" fill="url(#g43)"/><rect x="309.35" y="65" width="5.50" height="464" fill="url(#g44)"/><rect x="314.25" y="65" width="5.50" height="464" fill="url(#g45)"/><rect x="319.16" y="65" width="5.50" height="464" fill="url(#g46)"/><rect x="324.06" y="65" width="5.50" height="464" fill="url(#g47)"/><rect x="328.96" y="65" width="5.50" height="464" fill="url(#g48)"/><rect x="333.87" y="65" width="5.50" height="464" fill="url(#g49)"/><rect x="338.77" y="65" width="5.50" height="464" fill="url(#g50)"/><rect x="343.68" y="65" width="5.50" height="464" fill="url(#g51)"/><rect x="348.58" y="65" width="5.50" height="464" fill="url(#g52)"/><rect x="353.49" y="65" width="5.50" height="464" fill="url(#g53)"/><rect x="358.39" y="65" width="5.50" height="464" fill="url(#g54)"/><rect x="363.30" y="65" width="5.50" height="464" fill="url(#g55)"/><rect x="368.20" y="65" width="5.50" height="464" fill="url(#g56)"/><rect x="373.11" y="65" width="5.50" height="464" fill="url(#g57)"/><rect x="378.01" y="65" width="5.50" height="464" fill="url(#g58)"/><rect x="382.91" y="65" width="5.50" height="464" fill="url(#g59)"/><rect x="387.82" y="65" width="5.50" height="464" fill="url(#g60)"/><rect x="392.72" y="65" width="5.50" height="464" fill="url(#g61)"/><rect x="397.63" y="65" width="5.50" height="464" fill="url(#g62)"/><rect x="402.53" y="65" width="5.50" height="464" fill="url(#g63)"/><rect x="407.44" y="65" width="5.50" height="464" fill="url(#g64)"/><rect x="412.34" y="65" width="5.50" height="464" fill="url(#g65)"/><rect x="417.25" y="65" width="5.50" height="464" fill="url(#g66)"/><rect x="422.15" y="65" width="5.50" height="464" fill="url(#g67)"/><rect x="427.06" y="65" width="5.50" height="464" fill="url(#g68)"/><rect x="431.96" y="65" width="5.50" height="464" fill="url(#g69)"/><rect x="436.86" y="65" width="5.50" height="464" fill="url(#g70)"/><rect x="441.77" y="65" width="5.50" height="464" fill="url(#g71)"/><rect x="446.67" y="65" width="5.50" height="464" fill="url(#g72)"/><rect x="451.58" y="65" width="5.50" height="464" fill="url(#g73)"/><rect x="456.48" y="65" width="5.50" height="464" fill="url(#g74)"/><rect x="461.39" y="65" width="5.50" height="464" fill="url(#g75)"/><rect x="466.29" y="65" width="5.50" height="464" fill="url(#g76)"/><rect x="471.20" y="65" width="5.50" height="464" fill="url(#g77)"/><rect x="476.10" y="65" width="5.50" height="464" fill="url(#g78)"/><rect x="481.01" y="65" width="5.50" height="464" fill="url(#g79)"/><rect x="485.91" y="65" width="5.50" height="464" fill="url(#g80)"/><rect x="490.81" y="65" width="5.50" height="464" fill="url(#g81)"/><rect x="495.72" y="65" width="5.50" height="464" fill="url(#g82)"/><rect x="500.62" y="65" width="5.50" height="464" fill="url(#g83)"/><rect x="505.53" y="65" width="5.50" height="464" fill="url(#g84)"/><rect x="510.43" y="65" width="5.50" height="464" fill="url(#g85)"/><rect x="515.34" y="65" width="5.50" height="464" fill="url(#g86)"/><rect x="520.24" y="65" width="5.50" height="464" fill="url(#g87)"/><rect x="525.15" y="65" width="5.50" height="464" fill="url(#g88)"/><rect x="530.05" y="65" width="5.50" height="464" fill="url(#g89)"/><rect x="534.95" y="65" width="5.50" height="464" fill="url(#g90)"/><rect x="539.86" y="65" width="5.50" height="464" fill="url(#g91)"/><rect x="544.76" y="65" width="5.50" height="464" fill="url(#g92)"/><rect x="549.67" y="65" width="5.50" height="464" fill="url(#g93)"/><rect x="554.57" y="65" width="5.50" height="464" fill="url(#g94)"/><rect x="559.48" y="65" width="5.50" height="464" fill="url(#g95)"/><rect x="564.38" y="65" width="5.50" height="464" fill="url(#g96)"/><rect x="569.29" y="65" width="5.50" height="464" fill="url(#g97)"/><rect x="574.19" y="65" width="5.50" height="464" fill="url(#g98)"/><rect x="579.10" y="65" width="5.50" height="464" fill="url(#g99)"/><rect x="584.00" y="65" width="5.50" height="464" fill="url(#g100)"/><rect x="588.90" y="65" width="5.50" height="464" fill="url(#g101)"/><rect x="593.81" y="65" width="5.50" height="464" fill="url(#g102)"/><rect x="598.71" y="65" width="5.50" height="464" fill="url(#g103)"/><rect x="603.62" y="65" width="5.50" height="464" fill="url(#g104)"/><rect x="608.52" y="65" width="5.50" height="464" fill="url(#g105)"/><rect x="613.43" y="65" width="5.50" height="464" fill="url(#g106)"/><rect x="618.33" y="65" width="5.50" height="464" fill="url(#g107)"/><rect x="623.24" y="65" width="5.50" height="464" fill="url(#g108)"/><rect x="628.14" y="65" width="5.50" height="464" fill="url(#g109)"/><rect x="633.05" y="65" width="5.50" height="464" fill="url(#g110)"/><rect x="637.95" y="65" width="5.50" height="464" fill="url(#g111)"/><rect x="642.85" y="65" width="5.50" height="464" fill="url(#g112)"/><rect x="647.76" y="65" width="5.50" height="464" fill="url(#g113)"/><rect x="652.66" y="65" width="5.50" height="464" fill="url(#g114)"/><rect x="657.57" y="65" width="5.50" height="464" fill="url(#g115)"/><rect x="662.47" y="65" width="5.50" height="464" fill="url(#g116)"/><rect x="667.38" y="65" width="5.50" height="464" fill="url(#g117)"/><rect x="672.28" y="65" width="5.50" height="464" fill="url(#g118)"/><rect x="677.19" y="65" width="5.50" height="464" fill="url(#g119)"/><rect x="682.09" y="65" width="5.50" height="464" fill="url(#g120)"/><rect x="686.99" y="65" width="5.50" height="464" fill="url(#g121)"/><rect x="691.90" y="65" width="5.50" height="464" fill="url(#g122)"/><rect x="696.80" y="65" width="5.50" height="464" fill="url(#g123)"/><rect x="701.71" y="65" width="5.50" height="464" fill="url(#g124)"/><rect x="706.61" y="65" width="5.50" height="464" fill="url(#g125)"/><rect x="711.52" y="65" width="5.50" height="464" fill="url(#g126)"/><rect x="716.42" y="65" width="5.50" height="464" fill="url(#g127)"/><rect x="721.33" y="65" width="5.50" height="464" fill="url(#g128)"/><rect x="726.23" y="65" width="5.50" height="464" fill="url(#g129)"/><rect x="731.14" y="65" width="5.50" height="464" fill="url(#g130)"/><rect x="736.04" y="65" width="5.50" height="464" fill="url(#g131)"/><rect x="740.94" y="65" width="5.50" height="464" fill="url(#g132)"/><rect x="745.85" y="65" width="5.50" height="464" fill="url(#g133)"/><rect x="750.75" y="65" width="5.50" height="464" fill="url(#g134)"/><rect x="755.66" y="65" width="5.50" height="464" fill="url(#g135)"/><rect x="760.56" y="65" width="5.50" height="464" fill="url(#g136)"/><rect x="765.47" y="65" width="5.50" height="464" fill="url(#g137)"/><rect x="770.37" y="65" width="5.50" height="464" fill="url(#g138)"/><rect x="775.28" y="65" width="5.50" height="464" fill="url(#g139)"/><rect x="780.18" y="65" width="5.50" height="464" fill="url(#g140)"/><rect x="785.09" y="65" width="5.50" height="464" fill="url(#g141)"/><rect x="789.99" y="65" width="5.50" height="464" fill="url(#g142)"/><rect x="794.89" y="65" width="5.50" height="464" fill="url(#g143)"/><rect x="799.80" y="65" width="5.50" height="464" fill="url(#g144)"/><rect x="804.70" y="65" width="5.50" height="464" fill="url(#g145)"/><rect x="809.61" y="65" width="5.50" height="464" fill="url(#g146)"/><rect x="814.51" y="65" width="5.50" height="464" fill="url(#g147)"/><rect x="819.42" y="65" width="5.50" height="464" fill="url(#g148)"/><rect x="824.32" y="65" width="5.50" height="464" fill="url(#g149)"/><rect x="829.23" y="65" width="5.50" height="464" fill="url(#g150)"/><rect x="834.13" y="65" width="5.50" height="464" fill="url(#g151)"/><rect x="839.04" y="65" width="5.50" height="464" fill="url(#g152)"/><rect x="843.94" y="65" width="5.50" height="464" fill="url(#g153)"/><rect x="848.84" y="65" width="5.50" height="464" fill="url(#g154)"/><rect x="853.75" y="65" width="5.50" height="464" fill="url(#g155)"/><rect x="858.65" y="65" width="5.50" height="464" fill="url(#g156)"/><rect x="863.56" y="65" width="5.50" height="464" fill="url(#g157)"/><rect x="868.46" y="65" width="5.50" height="464" fill="url(#g158)"/><rect x="873.37" y="65" width="5.50" height="464" fill="url(#g159)"/><rect x="878.27" y="65" width="5.50" height="464" fill="url(#g160)"/><rect x="883.18" y="65" width="5.50" height="464" fill="url(#g161)"/><rect x="888.08" y="65" width="5.50" height="464" fill="url(#g162)"/><rect x="892.98" y="65" width="5.50" height="464" fill="url(#g163)"/><rect x="897.89" y="65" width="5.50" height="464" fill="url(#g164)"/><rect x="902.79" y="65" width="5.50" height="464" fill="url(#g165)"/><rect x="907.70" y="65" width="5.50" height="464" fill="url(#g166)"/><rect x="912.60" y="65" width="5.50" height="464" fill="url(#g167)"/><rect x="917.51" y="65" width="5.50" height="464" fill="url(#g168)"/><rect x="922.41" y="65" width="5.50" height="464" fill="url(#g169)"/><rect x="927.32" y="65" width="5.50" height="464" fill="url(#g170)"/><rect x="932.22" y="65" width="5.50" height="464" fill="url(#g171)"/><rect x="937.13" y="65" width="5.50" height="464" fill="url(#g172)"/><rect x="942.03" y="65" width="5.50" height="464" fill="url(#g173)"/><rect x="946.93" y="65" width="5.50" height="464" fill="url(#g174)"/><rect x="951.84" y="65" width="5.50" height="464" fill="url(#g175)"/><rect x="956.74" y="65" width="5.50" height="464" fill="url(#g176)"/><rect x="961.65" y="65" width="5.50" height="464" fill="url(#g177)"/><rect x="966.55" y="65" width="5.50" height="464" fill="url(#g178)"/><rect x="971.46" y="65" width="5.50" height="464" fill="url(#g179)"/><rect x="976.36" y="65" width="5.50" height="464" fill="url(#g180)"/><rect x="981.27" y="65" width="5.50" height="464" fill="url(#g181)"/><rect x="986.17" y="65" width="5.50" height="464" fill="url(#g182)"/><rect x="991.08" y="65" width="5.50" height="464" fill="url(#g183)"/><rect x="995.98" y="65" width="5.50" height="464" fill="url(#g184)"/><rect x="1000.88" y="65" width="5.50" height="464" fill="url(#g185)"/><rect x="1005.79" y="65" width="5.50" height="464" fill="url(#g186)"/><rect x="1010.69" y="65" width="5.50" height="464" fill="url(#g187)"/><rect x="1015.60" y="65" width="5.50" height="464" fill="url(#g188)"/><rect x="1020.50" y="65" width="5.50" height="464" fill="url(#g189)"/><rect x="1025.41" y="65" width="5.50" height="464" fill="url(#g190)"/><rect x="1030.31" y="65" width="5.50" height="464" fill="url(#g191)"/><rect x="1035.22" y="65" width="5.50" height="464" fill="url(#g192)"/><rect x="1040.12" y="65" width="5.50" height="464" fill="url(#g193)"/><rect x="1045.03" y="65" width="5.50" height="464" fill="url(#g194)"/><rect x="1049.93" y="65" width="5.50" height="464" fill="url(#g195)"/><rect x="1054.83" y="65" width="5.50" height="464" fill="url(#g196)"/><rect x="1059.74" y="65" width="5.50" height="464" fill="url(#g197)"/><rect x="1064.64" y="65" width="5.50" height="464" fill="url(#g198)"/><rect x="1069.55" y="65" width="2.45" height="464" fill="url(#g199)"/></g><rect x="281.3" y="523" width="1.4" height="6" fill="#000"/><rect x="476.6" y="523" width="1.4" height="6" fill="#000"/><rect x="671.9" y="523" width="1.4" height="6" fill="#000"/><rect x="867.2" y="523" width="1.4" height="6" fill="#000"/><rect x="1062.5" y="523" width="1.4" height="6" fill="#000"/><rect x="97" y="451.3" width="5.5" height="1.4" fill="#000"/><rect x="97" y="374.3" width="5.5" height="1.4" fill="#000"/><rect x="97" y="297.3" width="5.5" height="1.4" fill="#000"/><rect x="97" y="219.8" width="5.5" height="1.4" fill="#000"/><rect x="97" y="142.3" width="5.5" height="1.4" fill="#000"/><rect x="1065" y="470.0" width="6" height="1.4" fill="#000"/><rect x="1065" y="393.3" width="6" height="1.4" fill="#000"/><rect x="1065" y="316.6" width="6" height="1.4" fill="#000"/><rect x="1065" y="239.9" width="6" height="1.4" fill="#000"/><rect x="1065" y="163.2" width="6" height="1.4" fill="#000"/><rect x="1065" y="86.5" width="6" height="1.4" fill="#000"/><polyline clip-path="url(#cp)" points="101.5,560.0 105.8,505.1 110.7,437.6 115.6,384.2 120.5,368.0 125.4,373.5 130.3,380.1 135.2,384.9 140.1,388.3 145.0,389.8 149.9,390.5 154.9,390.1 159.8,389.1 164.7,388.1 169.6,387.1 174.5,385.9 179.4,384.7 184.3,383.4 189.2,380.7 194.1,372.0 199.0,340.4 203.9,210.0 208.8,259.7 213.7,293.7 218.6,311.0 223.5,319.4 228.4,323.4 233.3,325.3 238.2,326.0 243.1,325.5 248.0,324.3 252.9,322.9 257.8,321.3 262.8,319.2 267.7,316.5 272.6,311.4 277.5,275.8 282.4,246.5 287.3,288.2 292.2,295.6 297.1,297.0 302.0,298.2 306.9,309.1 311.8,344.5 316.7,389.0 321.6,353.8 326.5,324.0 331.4,314.2 336.3,308.0 341.2,304.2 346.1,301.6 351.0,299.8 355.9,298.8 360.8,298.1 365.7,297.8 370.7,298.0 375.6,300.8 380.5,306.7 385.4,317.2 390.3,337.8 395.2,364.6 400.1,389.0 405.0,244.0 409.9,219.0 414.8,221.5 419.7,225.8 424.6,228.1 429.5,230.0 434.4,231.3 439.3,231.8 444.2,232.1 449.1,232.4 454.0,232.8 458.9,233.8 463.8,235.5 468.7,239.6 473.6,245.0 478.6,238.9 483.5,120.0 488.4,123.6 493.3,133.8 498.2,127.5 503.1,169.2 508.0,191.4 512.9,197.3 517.8,198.4 522.7,198.8 527.6,198.2 532.5,196.6 537.4,194.6 542.3,192.6 547.2,190.9 552.1,189.2 557.0,187.6 561.9,186.1 566.8,184.8 571.7,183.6 576.6,183.0 581.5,192.2 586.5,266.8 591.4,332.8 596.3,281.9 601.2,250.9 606.1,236.3 611.0,227.5 615.9,220.8 620.8,216.6 625.7,214.1 630.6,212.2 635.5,211.5 640.4,212.6 645.3,215.1 650.2,219.8 655.1,226.4 660.0,238.4 664.9,276.2 669.8,346.5 674.7,262.4 679.6,207.6 684.5,162.7 689.4,137.5 694.4,149.7 699.3,157.1 704.2,161.8 709.1,165.2 714.0,167.4 718.9,168.4 723.8,169.2 728.7,169.8 733.6,170.0 738.5,169.4 743.4,167.8 748.3,165.6 753.2,162.0 758.1,155.6 763.0,140.9 767.9,115.0 772.8,86.2 777.7,165.1 782.6,199.8 787.5,205.2 792.4,206.5 797.3,207.2 802.3,207.5 807.2,207.4 812.1,207.3 817.0,207.0 821.9,206.7 826.8,206.3 831.7,205.4 836.6,203.9 841.5,202.6 846.4,201.7 851.3,201.2 856.2,251.3 861.1,350.8 866.0,430.5 870.9,365.9 875.8,312.4 880.7,286.3 885.6,275.3 890.5,270.7 895.4,268.6 900.3,267.8 905.2,268.4 910.2,270.0 915.1,272.0 920.0,275.4 924.9,279.9 929.8,284.9 934.7,290.9 939.6,297.3 944.5,306.2 949.4,311.5 954.3,305.2 959.2,206.5 964.1,170.0 969.0,195.0 973.9,208.7 978.8,223.7 983.7,230.0 988.6,233.8 993.5,236.5 998.4,238.6 1003.3,239.5 1008.2,239.0 1013.1,237.6 1018.1,235.7 1023.0,232.3 1027.9,225.9 1032.8,214.3 1037.7,175.5 1042.6,138.6 1047.5,126.2 1052.4,201.5 1057.3,281.0 1062.2,299.0 1067.1,297.9 1072.5,294.0" fill="none" stroke="#7cfc00" stroke-width="4" stroke-linejoin="round" stroke-linecap="butt"/><rect x="95" y="65" width="2.6" height="465.5" fill="#000"/><rect x="95" y="528.1" width="977.7" height="2.7" fill="#000"/><rect x="1070.1" y="54" width="2.6" height="476.5" fill="#000"/><rect x="727.1" y="448.4" width="330.1" height="66.6" fill="#fff" stroke="#000" stroke-width="2.6"/><rect x="749" y="477.6" width="54" height="4" fill="#7cfc00"/><text x="824.5" y="489" font-family="'Liberation Sans', sans-serif" font-size="27.5" textLength="212" lengthAdjust="spacingAndGlyphs">Scattering strength</text><text x="282.0" y="556.5" text-anchor="middle" font-family="'Liberation Serif', serif" font-size="27">1</text><text x="477.3" y="556.5" text-anchor="middle" font-family="'Liberation Serif', serif" font-size="27">2</text><text x="672.6" y="556.5" text-anchor="middle" font-family="'Liberation Serif', serif" font-size="27">3</text><text x="867.9" y="556.5" text-anchor="middle" font-family="'Liberation Serif', serif" font-size="27">4</text><text x="1063.2" y="556.5" text-anchor="middle" font-family="'Liberation Serif', serif" font-size="27">5</text><text x="40.5" y="539.8" textLength="47.5" lengthAdjust="spacingAndGlyphs" font-family="'Liberation Serif', serif" font-size="27">0.05</text><text x="40.5" y="462.8" textLength="47.5" lengthAdjust="spacingAndGlyphs" font-family="'Liberation Serif', serif" font-size="27">0.10</text><text x="40.5" y="385.8" textLength="47.5" lengthAdjust="spacingAndGlyphs" font-family="'Liberation Serif', serif" font-size="27">0.15</text><text x="40.5" y="308.8" textLength="47.5" lengthAdjust="spacingAndGlyphs" font-family="'Liberation Serif', serif" font-size="27">0.20</text><text x="40.5" y="231.3" textLength="47.5" lengthAdjust="spacingAndGlyphs" font-family="'Liberation Serif', serif" font-size="27">0.25</text><text x="40.5" y="153.8" textLength="47.5" lengthAdjust="spacingAndGlyphs" font-family="'Liberation Serif', serif" font-size="27">0.30</text><text x="1078.5" y="481.1" textLength="47.5" lengthAdjust="spacingAndGlyphs" font-family="'Liberation Serif', serif" font-size="27">0.05</text><text x="1078.5" y="404.4" textLength="47.5" lengthAdjust="spacingAndGlyphs" font-family="'Liberation Serif', serif" font-size="27">0.10</text><text x="1078.5" y="327.7" textLength="47.5" lengthAdjust="spacingAndGlyphs" font-family="'Liberation Serif', serif" font-size="27">0.15</text><text x="1078.5" y="251.0" textLength="47.5" lengthAdjust="spacingAndGlyphs" font-family="'Liberation Serif', serif" font-size="27">0.20</text><text x="1078.5" y="174.3" textLength="47.5" lengthAdjust="spacingAndGlyphs" font-family="'Liberation Serif', serif" font-size="27">0.25</text><text x="1078.5" y="97.6" textLength="47.5" lengthAdjust="spacingAndGlyphs" font-family="'Liberation Serif', serif" font-size="27">0.30</text><text x="274.2" y="19.2" textLength="34" lengthAdjust="spacingAndGlyphs" font-family="'Liberation Serif', serif" font-size="27">0.2</text><text x="469.4" y="19.2" textLength="34" lengthAdjust="spacingAndGlyphs" font-family="'Liberation Serif', serif" font-size="27">0.4</text><text x="664.6" y="19.2" textLength="34" lengthAdjust="spacingAndGlyphs" font-family="'Liberation Serif', serif" font-size="27">0.6</text><text x="859.8" y="19.2" textLength="34" lengthAdjust="spacingAndGlyphs" font-family="'Liberation Serif', serif" font-size="27">0.8</text><text transform="translate(584.8,596) scale(1.16,1)" text-anchor="middle" font-family="'Liberation Serif', serif" font-style="italic" font-size="37">ka</text><text transform="translate(25.6,428.3) rotate(-90)" font-family="'Liberation Sans', sans-serif" font-size="33.4">volume fraction</text><text transform="translate(25.6,177.8) rotate(-90) scale(1.22,1)" text-anchor="middle" font-family="'Liberation Serif', 'DejaVu Serif', serif" font-style="italic" font-size="34">ϕ</text></svg></body></html>
